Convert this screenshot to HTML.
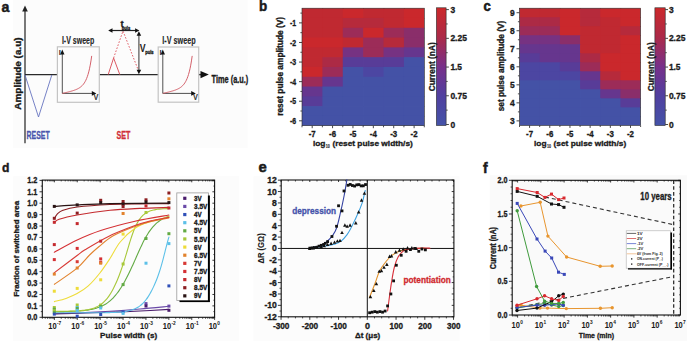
<!DOCTYPE html>
<html><head><meta charset="utf-8"><style>
html,body{margin:0;padding:0;background:#fff;}
svg{display:block;}
text{font-family:"Liberation Sans",sans-serif;}
</style></head><body>
<svg width="687" height="341" viewBox="0 0 687 341">
<rect width="687" height="341" fill="#fff"/>
<rect x="13.2" y="0" width="234.3" height="148" fill="#fcfcfc"/>
<rect x="13.2" y="176.1" width="226" height="164.9" fill="#fcfcfc"/>
<rect x="253.5" y="176.2" width="206" height="164.8" fill="#fcfcfc"/>
<rect x="489.8" y="175.3" width="197.2" height="165.7" fill="#fafafa"/>
<text x="1.50" y="11.50" font-size="14.5" fill="#1a1a1a" font-weight="bold" text-anchor="start" textLength="7.90" lengthAdjust="spacingAndGlyphs"  stroke="#1a1a1a" stroke-width="0.5">a</text>
<line x1="25.00" y1="10.50" x2="25.00" y2="143.30" stroke="#6a6a6a" stroke-width="1.8" />
<polygon points="22.20,11.50 27.80,11.50 25.00,5.50" fill="#222" stroke="none" stroke-width="1" />
<text transform="translate(21.20,109.70) rotate(-90)" x="0" y="0" font-size="8.4" fill="#1a1a1a" font-weight="bold" text-anchor="start" textLength="72.30" lengthAdjust="spacingAndGlyphs"  stroke="#1a1a1a" stroke-width="0.32">Amplitude (a.u)</text>
<line x1="25.00" y1="74.60" x2="57.50" y2="74.60" stroke="#2a2a2a" stroke-width="1.4" />
<line x1="99.30" y1="74.60" x2="158.20" y2="74.60" stroke="#2a2a2a" stroke-width="1.4" />
<line x1="198.70" y1="74.60" x2="203.00" y2="74.60" stroke="#2a2a2a" stroke-width="1.4" />
<polygon points="200.50,71.00 200.50,78.20 208.80,74.60" fill="#111" stroke="none" stroke-width="1" />
<text x="211.60" y="82.60" font-size="10.6" fill="#1a1a1a" font-weight="bold" text-anchor="start" textLength="36.70" lengthAdjust="spacingAndGlyphs"  stroke="#1a1a1a" stroke-width="0.32">Time (a.u.)</text>
<polyline points="25.00,75.00 38.50,117.00 51.80,75.00" fill="none" stroke="#6674c0" stroke-width="0.9" stroke-linejoin="round" />
<rect x="57.40" y="46.80" width="41.90" height="55.50" fill="none" stroke="#c4c4c4" stroke-width="1.2" />
<text x="61.90" y="43.90" font-size="10" fill="#262626" font-weight="bold" text-anchor="start" textLength="32.40" lengthAdjust="spacingAndGlyphs"  stroke="#262626" stroke-width="0.12">I-V sweep</text>
<line x1="62.30" y1="93.40" x2="62.30" y2="53.50" stroke="#505050" stroke-width="1" />
<polygon points="60.10,54.50 64.50,54.50 62.30,49.50" fill="#111" stroke="none" stroke-width="1" />
<line x1="62.30" y1="93.40" x2="92.40" y2="93.40" stroke="#505050" stroke-width="1" />
<polygon points="91.80,91.00 91.80,95.80 96.40,93.40" fill="#111" stroke="none" stroke-width="1" />
<text x="58.70" y="54.90" font-size="7.8" fill="#333" font-weight="bold" text-anchor="start" >I</text>
<text x="93.50" y="100.00" font-size="8.5" fill="#333" font-weight="bold" text-anchor="start" textLength="4.90" lengthAdjust="spacingAndGlyphs" >V</text>
<polyline points="62.30,93.40 63.03,93.23 63.77,93.06 64.50,92.89 65.24,92.72 65.97,92.54 66.71,92.36 67.44,92.18 68.18,92.00 68.91,91.81 69.65,91.62 70.38,91.42 71.12,91.22 71.85,91.01 72.59,90.79 73.32,90.55 74.06,90.31 74.79,90.05 75.53,89.77 76.26,89.47 77.00,89.15 77.73,88.79 78.47,88.40 79.20,87.97 79.94,87.49 80.67,86.95 81.41,86.34 82.14,85.64 82.88,84.85 83.61,83.94 84.35,82.89 85.08,81.68 85.82,80.27 86.55,78.63 87.29,76.72 88.02,74.48 88.76,71.86 89.49,68.79 90.23,65.17 90.96,60.91 91.70,55.90" fill="none" stroke="#d4606a" stroke-width="1" stroke-linejoin="round" />
<rect x="158.20" y="47.00" width="40.50" height="55.20" fill="none" stroke="#c4c4c4" stroke-width="1.2" />
<text x="162.20" y="43.90" font-size="10" fill="#262626" font-weight="bold" text-anchor="start" textLength="33.50" lengthAdjust="spacingAndGlyphs"  stroke="#262626" stroke-width="0.12">I-V sweep</text>
<line x1="162.80" y1="93.40" x2="162.80" y2="53.50" stroke="#505050" stroke-width="1" />
<polygon points="160.60,54.50 165.00,54.50 162.80,49.50" fill="#111" stroke="none" stroke-width="1" />
<line x1="162.80" y1="93.40" x2="191.80" y2="93.40" stroke="#505050" stroke-width="1" />
<polygon points="191.20,91.00 191.20,95.80 195.80,93.40" fill="#111" stroke="none" stroke-width="1" />
<text x="159.50" y="54.90" font-size="7.8" fill="#333" font-weight="bold" text-anchor="start" >I</text>
<text x="192.90" y="100.00" font-size="8.5" fill="#333" font-weight="bold" text-anchor="start" textLength="4.90" lengthAdjust="spacingAndGlyphs" >V</text>
<polyline points="162.80,93.40 163.53,93.23 164.27,93.06 165.00,92.89 165.74,92.72 166.47,92.54 167.21,92.36 167.94,92.18 168.68,92.00 169.41,91.81 170.15,91.62 170.88,91.42 171.62,91.22 172.35,91.01 173.09,90.79 173.82,90.55 174.56,90.31 175.29,90.05 176.03,89.77 176.76,89.47 177.50,89.15 178.23,88.79 178.97,88.40 179.70,87.97 180.44,87.49 181.17,86.95 181.91,86.34 182.64,85.64 183.38,84.85 184.11,83.94 184.85,82.89 185.58,81.68 186.32,80.27 187.05,78.63 187.79,76.72 188.52,74.48 189.26,71.86 190.00,68.79 190.73,65.17 191.46,60.91 192.20,55.90" fill="none" stroke="#d4606a" stroke-width="1" stroke-linejoin="round" />
<polyline points="108.20,74.60 113.60,58.00 119.80,74.60" fill="none" stroke="#dc5a64" stroke-width="1" stroke-linejoin="round" />
<polyline points="113.60,58.00 123.00,31.00 138.60,71.00" fill="none" stroke="#e06068" stroke-width="1" stroke-linejoin="round" stroke-dasharray="1.6,1.6"/>
<line x1="111.00" y1="30.50" x2="137.00" y2="30.50" stroke="#222" stroke-width="1.2" />
<polygon points="108.20,30.50 112.50,28.30 112.50,32.70" fill="#111" stroke="none" stroke-width="1" />
<polygon points="139.40,30.50 135.10,28.30 135.10,32.70" fill="#111" stroke="none" stroke-width="1" />
<text x="120.40" y="27.30" font-size="9.5" fill="#1a1a1a" font-weight="bold" text-anchor="start"  stroke="#1a1a1a" stroke-width="0.32">t</text>
<text x="121.80" y="29.60" font-size="4.6" fill="#1a1a1a" font-weight="bold" text-anchor="start" textLength="8.40" lengthAdjust="spacingAndGlyphs"  stroke="#1a1a1a" stroke-width="0.32">puls</text>
<line x1="138.90" y1="35.00" x2="138.90" y2="70.50" stroke="#444" stroke-width="1.1" />
<polygon points="138.90,31.30 136.60,35.80 141.20,35.80" fill="#111" stroke="none" stroke-width="1" />
<polygon points="138.90,74.20 136.60,69.70 141.20,69.70" fill="#111" stroke="none" stroke-width="1" />
<text x="139.80" y="52.20" font-size="10.8" fill="#1a1a1a" font-weight="bold" text-anchor="start" textLength="5.80" lengthAdjust="spacingAndGlyphs"  stroke="#1a1a1a" stroke-width="0.1">V</text>
<text x="145.20" y="54.30" font-size="4.8" fill="#1a1a1a" font-weight="bold" text-anchor="start" textLength="8.40" lengthAdjust="spacingAndGlyphs"  stroke="#1a1a1a" stroke-width="0.32">puls</text>
<text x="26.60" y="138.60" font-size="10.9" fill="#4a56ac" font-weight="bold" text-anchor="start" textLength="23.10" lengthAdjust="spacingAndGlyphs"  stroke="#4a56ac" stroke-width="0.32">RESET</text>
<text x="116.60" y="138.60" font-size="10.9" fill="#d0303a" font-weight="bold" text-anchor="start" textLength="13.80" lengthAdjust="spacingAndGlyphs"  stroke="#d0303a" stroke-width="0.32">SET</text>
<defs><linearGradient id="cbar" x1="0" y1="0" x2="0" y2="1"><stop offset="0" stop-color="#cc282a"/><stop offset="0.25" stop-color="#ac2a48"/><stop offset="0.5" stop-color="#78308a"/><stop offset="0.75" stop-color="#5040a0"/><stop offset="1" stop-color="#4453a8"/></linearGradient></defs>
<text x="259.10" y="11.45" font-size="13.8" fill="#1a1a1a" font-weight="bold" text-anchor="start" textLength="8.20" lengthAdjust="spacingAndGlyphs"  stroke="#1a1a1a" stroke-width="0.5">b</text>
<rect x="302.00" y="8.20" width="21.18" height="10.59" fill="#c02931"/>
<rect x="322.38" y="8.20" width="21.18" height="10.59" fill="#c02931"/>
<rect x="342.77" y="8.20" width="21.18" height="10.59" fill="#ca282c"/>
<rect x="363.15" y="8.20" width="21.18" height="10.59" fill="#c02931"/>
<rect x="383.53" y="8.20" width="21.18" height="10.59" fill="#c02931"/>
<rect x="403.92" y="8.20" width="20.38" height="10.59" fill="#ca282c"/>
<rect x="302.00" y="17.99" width="21.18" height="10.59" fill="#c02931"/>
<rect x="322.38" y="17.99" width="21.18" height="10.59" fill="#c02931"/>
<rect x="342.77" y="17.99" width="21.18" height="10.59" fill="#b62a3b"/>
<rect x="363.15" y="17.99" width="21.18" height="10.59" fill="#b62a3b"/>
<rect x="383.53" y="17.99" width="21.18" height="10.59" fill="#c02931"/>
<rect x="403.92" y="17.99" width="20.38" height="10.59" fill="#ca282c"/>
<rect x="302.00" y="27.78" width="21.18" height="10.59" fill="#c02931"/>
<rect x="322.38" y="27.78" width="21.18" height="10.59" fill="#c02931"/>
<rect x="342.77" y="27.78" width="21.18" height="10.59" fill="#9c2c58"/>
<rect x="363.15" y="27.78" width="21.18" height="10.59" fill="#ca282c"/>
<rect x="383.53" y="27.78" width="21.18" height="10.59" fill="#9c2c58"/>
<rect x="403.92" y="27.78" width="20.38" height="10.59" fill="#8a2e6a"/>
<rect x="302.00" y="37.58" width="21.18" height="10.59" fill="#ca282c"/>
<rect x="322.38" y="37.58" width="21.18" height="10.59" fill="#ca282c"/>
<rect x="342.77" y="37.58" width="21.18" height="10.59" fill="#c02931"/>
<rect x="363.15" y="37.58" width="21.18" height="10.59" fill="#9c2c58"/>
<rect x="383.53" y="37.58" width="21.18" height="10.59" fill="#b62a3b"/>
<rect x="403.92" y="37.58" width="20.38" height="10.59" fill="#8a2e6a"/>
<rect x="302.00" y="47.37" width="21.18" height="10.59" fill="#c02931"/>
<rect x="322.38" y="47.37" width="21.18" height="10.59" fill="#c02931"/>
<rect x="342.77" y="47.37" width="21.18" height="10.59" fill="#763282"/>
<rect x="363.15" y="47.37" width="21.18" height="10.59" fill="#9c2c58"/>
<rect x="383.53" y="47.37" width="21.18" height="10.59" fill="#763282"/>
<rect x="403.92" y="47.37" width="20.38" height="10.59" fill="#66368e"/>
<rect x="302.00" y="57.16" width="21.18" height="10.59" fill="#c02931"/>
<rect x="322.38" y="57.16" width="21.18" height="10.59" fill="#ac2a45"/>
<rect x="342.77" y="57.16" width="21.18" height="10.59" fill="#583c98"/>
<rect x="363.15" y="57.16" width="21.18" height="10.59" fill="#583c98"/>
<rect x="383.53" y="57.16" width="21.18" height="10.59" fill="#583c98"/>
<rect x="403.92" y="57.16" width="20.38" height="10.59" fill="#4452a6"/>
<rect x="302.00" y="66.95" width="21.18" height="10.59" fill="#ca282c"/>
<rect x="322.38" y="66.95" width="21.18" height="10.59" fill="#9c2c58"/>
<rect x="342.77" y="66.95" width="21.18" height="10.59" fill="#4452a6"/>
<rect x="363.15" y="66.95" width="21.18" height="10.59" fill="#4c46a2"/>
<rect x="383.53" y="66.95" width="21.18" height="10.59" fill="#4452a6"/>
<rect x="403.92" y="66.95" width="20.38" height="10.59" fill="#4452a6"/>
<rect x="302.00" y="76.74" width="21.18" height="10.59" fill="#9c2c58"/>
<rect x="322.38" y="76.74" width="21.18" height="10.59" fill="#66368e"/>
<rect x="342.77" y="76.74" width="21.18" height="10.59" fill="#4452a6"/>
<rect x="363.15" y="76.74" width="21.18" height="10.59" fill="#4452a6"/>
<rect x="383.53" y="76.74" width="21.18" height="10.59" fill="#4452a6"/>
<rect x="403.92" y="76.74" width="20.38" height="10.59" fill="#4452a6"/>
<rect x="302.00" y="86.53" width="21.18" height="10.59" fill="#66368e"/>
<rect x="322.38" y="86.53" width="21.18" height="10.59" fill="#4452a6"/>
<rect x="342.77" y="86.53" width="21.18" height="10.59" fill="#4452a6"/>
<rect x="363.15" y="86.53" width="21.18" height="10.59" fill="#4452a6"/>
<rect x="383.53" y="86.53" width="21.18" height="10.59" fill="#4452a6"/>
<rect x="403.92" y="86.53" width="20.38" height="10.59" fill="#4452a6"/>
<rect x="302.00" y="96.33" width="21.18" height="10.59" fill="#583c98"/>
<rect x="322.38" y="96.33" width="21.18" height="10.59" fill="#4452a6"/>
<rect x="342.77" y="96.33" width="21.18" height="10.59" fill="#4452a6"/>
<rect x="363.15" y="96.33" width="21.18" height="10.59" fill="#4452a6"/>
<rect x="383.53" y="96.33" width="21.18" height="10.59" fill="#4452a6"/>
<rect x="403.92" y="96.33" width="20.38" height="10.59" fill="#4452a6"/>
<rect x="302.00" y="106.12" width="21.18" height="10.59" fill="#4452a6"/>
<rect x="322.38" y="106.12" width="21.18" height="10.59" fill="#4452a6"/>
<rect x="342.77" y="106.12" width="21.18" height="10.59" fill="#4452a6"/>
<rect x="363.15" y="106.12" width="21.18" height="10.59" fill="#4452a6"/>
<rect x="383.53" y="106.12" width="21.18" height="10.59" fill="#4452a6"/>
<rect x="403.92" y="106.12" width="20.38" height="10.59" fill="#4452a6"/>
<rect x="302.00" y="115.91" width="21.18" height="9.79" fill="#4452a6"/>
<rect x="322.38" y="115.91" width="21.18" height="9.79" fill="#4452a6"/>
<rect x="342.77" y="115.91" width="21.18" height="9.79" fill="#4452a6"/>
<rect x="363.15" y="115.91" width="21.18" height="9.79" fill="#4452a6"/>
<rect x="383.53" y="115.91" width="21.18" height="9.79" fill="#4452a6"/>
<rect x="403.92" y="115.91" width="20.38" height="9.79" fill="#4452a6"/>
<rect x="302.00" y="8.20" width="122.30" height="117.50" fill="none" stroke="#2a2a2a" stroke-width="0.6" />
<line x1="300.40" y1="13.10" x2="302.00" y2="13.10" stroke="#333" stroke-width="0.85" />
<line x1="299.00" y1="22.89" x2="302.00" y2="22.89" stroke="#333" stroke-width="0.9" />
<text x="296.20" y="26.04" font-size="9.0" fill="#1a1a1a" font-weight="bold" text-anchor="end" textLength="6.20" lengthAdjust="spacingAndGlyphs"  stroke="#1a1a1a" stroke-width="0.32">-1</text>
<line x1="300.40" y1="32.68" x2="302.00" y2="32.68" stroke="#333" stroke-width="0.85" />
<line x1="299.00" y1="42.47" x2="302.00" y2="42.47" stroke="#333" stroke-width="0.9" />
<text x="296.20" y="45.62" font-size="9.0" fill="#1a1a1a" font-weight="bold" text-anchor="end" textLength="6.20" lengthAdjust="spacingAndGlyphs"  stroke="#1a1a1a" stroke-width="0.32">-2</text>
<line x1="300.40" y1="52.26" x2="302.00" y2="52.26" stroke="#333" stroke-width="0.85" />
<line x1="299.00" y1="62.05" x2="302.00" y2="62.05" stroke="#333" stroke-width="0.9" />
<text x="296.20" y="65.20" font-size="9.0" fill="#1a1a1a" font-weight="bold" text-anchor="end" textLength="6.20" lengthAdjust="spacingAndGlyphs"  stroke="#1a1a1a" stroke-width="0.32">-3</text>
<line x1="300.40" y1="71.85" x2="302.00" y2="71.85" stroke="#333" stroke-width="0.85" />
<line x1="299.00" y1="81.64" x2="302.00" y2="81.64" stroke="#333" stroke-width="0.9" />
<text x="296.20" y="84.79" font-size="9.0" fill="#1a1a1a" font-weight="bold" text-anchor="end" textLength="6.20" lengthAdjust="spacingAndGlyphs"  stroke="#1a1a1a" stroke-width="0.32">-4</text>
<line x1="300.40" y1="91.43" x2="302.00" y2="91.43" stroke="#333" stroke-width="0.85" />
<line x1="299.00" y1="101.22" x2="302.00" y2="101.22" stroke="#333" stroke-width="0.9" />
<text x="296.20" y="104.37" font-size="9.0" fill="#1a1a1a" font-weight="bold" text-anchor="end" textLength="6.20" lengthAdjust="spacingAndGlyphs"  stroke="#1a1a1a" stroke-width="0.32">-5</text>
<line x1="300.40" y1="111.01" x2="302.00" y2="111.01" stroke="#333" stroke-width="0.85" />
<line x1="299.00" y1="120.80" x2="302.00" y2="120.80" stroke="#333" stroke-width="0.9" />
<text x="296.20" y="123.95" font-size="9.0" fill="#1a1a1a" font-weight="bold" text-anchor="end" textLength="6.20" lengthAdjust="spacingAndGlyphs"  stroke="#1a1a1a" stroke-width="0.32">-6</text>
<line x1="312.19" y1="125.70" x2="312.19" y2="128.20" stroke="#333" stroke-width="0.9" />
<line x1="302.00" y1="125.70" x2="302.00" y2="127.30" stroke="#333" stroke-width="0.85" />
<text x="312.19" y="136.70" font-size="9.0" fill="#1a1a1a" font-weight="bold" text-anchor="middle" textLength="7.00" lengthAdjust="spacingAndGlyphs"  stroke="#1a1a1a" stroke-width="0.32">-7</text>
<line x1="332.57" y1="125.70" x2="332.57" y2="128.20" stroke="#333" stroke-width="0.9" />
<line x1="322.38" y1="125.70" x2="322.38" y2="127.30" stroke="#333" stroke-width="0.85" />
<text x="332.57" y="136.70" font-size="9.0" fill="#1a1a1a" font-weight="bold" text-anchor="middle" textLength="7.00" lengthAdjust="spacingAndGlyphs"  stroke="#1a1a1a" stroke-width="0.32">-6</text>
<line x1="352.96" y1="125.70" x2="352.96" y2="128.20" stroke="#333" stroke-width="0.9" />
<line x1="342.77" y1="125.70" x2="342.77" y2="127.30" stroke="#333" stroke-width="0.85" />
<text x="352.96" y="136.70" font-size="9.0" fill="#1a1a1a" font-weight="bold" text-anchor="middle" textLength="7.00" lengthAdjust="spacingAndGlyphs"  stroke="#1a1a1a" stroke-width="0.32">-5</text>
<line x1="373.34" y1="125.70" x2="373.34" y2="128.20" stroke="#333" stroke-width="0.9" />
<line x1="363.15" y1="125.70" x2="363.15" y2="127.30" stroke="#333" stroke-width="0.85" />
<text x="373.34" y="136.70" font-size="9.0" fill="#1a1a1a" font-weight="bold" text-anchor="middle" textLength="7.00" lengthAdjust="spacingAndGlyphs"  stroke="#1a1a1a" stroke-width="0.32">-4</text>
<line x1="393.73" y1="125.70" x2="393.73" y2="128.20" stroke="#333" stroke-width="0.9" />
<line x1="383.53" y1="125.70" x2="383.53" y2="127.30" stroke="#333" stroke-width="0.85" />
<text x="393.73" y="136.70" font-size="9.0" fill="#1a1a1a" font-weight="bold" text-anchor="middle" textLength="7.00" lengthAdjust="spacingAndGlyphs"  stroke="#1a1a1a" stroke-width="0.32">-3</text>
<line x1="414.11" y1="125.70" x2="414.11" y2="128.20" stroke="#333" stroke-width="0.9" />
<line x1="403.92" y1="125.70" x2="403.92" y2="127.30" stroke="#333" stroke-width="0.85" />
<text x="414.11" y="136.70" font-size="9.0" fill="#1a1a1a" font-weight="bold" text-anchor="middle" textLength="7.00" lengthAdjust="spacingAndGlyphs"  stroke="#1a1a1a" stroke-width="0.32">-2</text>
<line x1="424.30" y1="125.70" x2="424.30" y2="127.30" stroke="#333" stroke-width="0.85" />
<text transform="translate(283.20,115.80) rotate(-90)" x="0" y="0" font-size="8.3" fill="#1a1a1a" font-weight="bold" text-anchor="start" textLength="98.80" lengthAdjust="spacingAndGlyphs"  stroke="#1a1a1a" stroke-width="0.32">reset pulse amplitude (V)</text>
<text x="312.90" y="146.30" font-size="8.0" fill="#1a1a1a" font-weight="bold" text-anchor="start" textLength="12.50" lengthAdjust="spacingAndGlyphs"  stroke="#1a1a1a" stroke-width="0.32">log</text>
<text x="325.80" y="148.10" font-size="4.6" fill="#1a1a1a" font-weight="bold" text-anchor="start" textLength="4.10" lengthAdjust="spacingAndGlyphs"  stroke="#1a1a1a" stroke-width="0.1">10</text>
<text x="332.40" y="146.30" font-size="8.0" fill="#1a1a1a" font-weight="bold" text-anchor="start" textLength="80.40" lengthAdjust="spacingAndGlyphs"  stroke="#1a1a1a" stroke-width="0.32">(reset pulse width/s)</text>
<rect x="436.40" y="7.8" width="9.70" height="117.7" fill="url(#cbar)" stroke="#2a2a2a" stroke-width="0.6"/>
<line x1="446.10" y1="9.60" x2="448.90" y2="9.60" stroke="#333" stroke-width="0.9" />
<text x="450.40" y="12.70" font-size="8.9" fill="#1a1a1a" font-weight="bold" text-anchor="start" textLength="4.70" lengthAdjust="spacingAndGlyphs"  stroke="#1a1a1a" stroke-width="0.32">3</text>
<line x1="446.10" y1="23.96" x2="447.70" y2="23.96" stroke="#333" stroke-width="0.85" />
<line x1="446.10" y1="38.33" x2="448.90" y2="38.33" stroke="#333" stroke-width="0.9" />
<text x="450.40" y="41.43" font-size="8.9" fill="#1a1a1a" font-weight="bold" text-anchor="start" textLength="16.50" lengthAdjust="spacingAndGlyphs"  stroke="#1a1a1a" stroke-width="0.32">2.25</text>
<line x1="446.10" y1="52.69" x2="447.70" y2="52.69" stroke="#333" stroke-width="0.85" />
<line x1="446.10" y1="67.05" x2="448.90" y2="67.05" stroke="#333" stroke-width="0.9" />
<text x="450.40" y="70.15" font-size="8.9" fill="#1a1a1a" font-weight="bold" text-anchor="start" textLength="11.60" lengthAdjust="spacingAndGlyphs"  stroke="#1a1a1a" stroke-width="0.32">1.5</text>
<line x1="446.10" y1="81.41" x2="447.70" y2="81.41" stroke="#333" stroke-width="0.85" />
<line x1="446.10" y1="95.78" x2="448.90" y2="95.78" stroke="#333" stroke-width="0.9" />
<text x="450.40" y="98.88" font-size="8.9" fill="#1a1a1a" font-weight="bold" text-anchor="start" textLength="16.50" lengthAdjust="spacingAndGlyphs"  stroke="#1a1a1a" stroke-width="0.32">0.75</text>
<line x1="446.10" y1="110.14" x2="447.70" y2="110.14" stroke="#333" stroke-width="0.85" />
<line x1="446.10" y1="124.50" x2="448.90" y2="124.50" stroke="#333" stroke-width="0.9" />
<text x="450.40" y="127.60" font-size="8.9" fill="#1a1a1a" font-weight="bold" text-anchor="start" textLength="4.70" lengthAdjust="spacingAndGlyphs"  stroke="#1a1a1a" stroke-width="0.32">0</text>
<text transform="translate(435.00,91.30) rotate(-90)" x="0" y="0" font-size="8.3" fill="#1a1a1a" font-weight="bold" text-anchor="start" textLength="49.00" lengthAdjust="spacingAndGlyphs"  stroke="#1a1a1a" stroke-width="0.32">Current (nA)</text>
<text x="483.50" y="11.45" font-size="13.8" fill="#1a1a1a" font-weight="bold" text-anchor="start" textLength="7.30" lengthAdjust="spacingAndGlyphs"  stroke="#1a1a1a" stroke-width="0.5">c</text>
<rect x="519.50" y="8.20" width="20.98" height="9.82" fill="#c02931"/>
<rect x="539.68" y="8.20" width="20.98" height="9.82" fill="#c02931"/>
<rect x="559.87" y="8.20" width="20.98" height="9.82" fill="#ca282c"/>
<rect x="580.05" y="8.20" width="20.98" height="9.82" fill="#b62a3b"/>
<rect x="600.23" y="8.20" width="20.98" height="9.82" fill="#ca282c"/>
<rect x="620.42" y="8.20" width="20.18" height="9.82" fill="#ca282c"/>
<rect x="519.50" y="17.22" width="20.98" height="9.82" fill="#ac2a45"/>
<rect x="539.68" y="17.22" width="20.98" height="9.82" fill="#ac2a45"/>
<rect x="559.87" y="17.22" width="20.98" height="9.82" fill="#ca282c"/>
<rect x="580.05" y="17.22" width="20.98" height="9.82" fill="#b62a3b"/>
<rect x="600.23" y="17.22" width="20.98" height="9.82" fill="#c02931"/>
<rect x="620.42" y="17.22" width="20.18" height="9.82" fill="#ca282c"/>
<rect x="519.50" y="26.23" width="20.98" height="9.82" fill="#9c2c58"/>
<rect x="539.68" y="26.23" width="20.98" height="9.82" fill="#9c2c58"/>
<rect x="559.87" y="26.23" width="20.98" height="9.82" fill="#ca282c"/>
<rect x="580.05" y="26.23" width="20.98" height="9.82" fill="#c02931"/>
<rect x="600.23" y="26.23" width="20.98" height="9.82" fill="#c02931"/>
<rect x="620.42" y="26.23" width="20.18" height="9.82" fill="#b62a3b"/>
<rect x="519.50" y="35.25" width="20.98" height="9.82" fill="#763282"/>
<rect x="539.68" y="35.25" width="20.98" height="9.82" fill="#763282"/>
<rect x="559.87" y="35.25" width="20.98" height="9.82" fill="#8a2e6a"/>
<rect x="580.05" y="35.25" width="20.98" height="9.82" fill="#c02931"/>
<rect x="600.23" y="35.25" width="20.98" height="9.82" fill="#c02931"/>
<rect x="620.42" y="35.25" width="20.18" height="9.82" fill="#ca282c"/>
<rect x="519.50" y="44.26" width="20.98" height="9.82" fill="#66368e"/>
<rect x="539.68" y="44.26" width="20.98" height="9.82" fill="#66368e"/>
<rect x="559.87" y="44.26" width="20.98" height="9.82" fill="#66368e"/>
<rect x="580.05" y="44.26" width="20.98" height="9.82" fill="#c02931"/>
<rect x="600.23" y="44.26" width="20.98" height="9.82" fill="#c02931"/>
<rect x="620.42" y="44.26" width="20.18" height="9.82" fill="#ca282c"/>
<rect x="519.50" y="53.28" width="20.98" height="9.82" fill="#583c98"/>
<rect x="539.68" y="53.28" width="20.98" height="9.82" fill="#66368e"/>
<rect x="559.87" y="53.28" width="20.98" height="9.82" fill="#66368e"/>
<rect x="580.05" y="53.28" width="20.98" height="9.82" fill="#ac2a45"/>
<rect x="600.23" y="53.28" width="20.98" height="9.82" fill="#ca282c"/>
<rect x="620.42" y="53.28" width="20.18" height="9.82" fill="#ca282c"/>
<rect x="519.50" y="62.29" width="20.98" height="9.82" fill="#4c46a2"/>
<rect x="539.68" y="62.29" width="20.98" height="9.82" fill="#4c46a2"/>
<rect x="559.87" y="62.29" width="20.98" height="9.82" fill="#583c98"/>
<rect x="580.05" y="62.29" width="20.98" height="9.82" fill="#9c2c58"/>
<rect x="600.23" y="62.29" width="20.98" height="9.82" fill="#ca282c"/>
<rect x="620.42" y="62.29" width="20.18" height="9.82" fill="#ca282c"/>
<rect x="519.50" y="71.31" width="20.98" height="9.82" fill="#4c46a2"/>
<rect x="539.68" y="71.31" width="20.98" height="9.82" fill="#4c46a2"/>
<rect x="559.87" y="71.31" width="20.98" height="9.82" fill="#4c46a2"/>
<rect x="580.05" y="71.31" width="20.98" height="9.82" fill="#66368e"/>
<rect x="600.23" y="71.31" width="20.98" height="9.82" fill="#b62a3b"/>
<rect x="620.42" y="71.31" width="20.18" height="9.82" fill="#ca282c"/>
<rect x="519.50" y="80.32" width="20.98" height="9.82" fill="#4452a6"/>
<rect x="539.68" y="80.32" width="20.98" height="9.82" fill="#4452a6"/>
<rect x="559.87" y="80.32" width="20.98" height="9.82" fill="#4452a6"/>
<rect x="580.05" y="80.32" width="20.98" height="9.82" fill="#583c98"/>
<rect x="600.23" y="80.32" width="20.98" height="9.82" fill="#9c2c58"/>
<rect x="620.42" y="80.32" width="20.18" height="9.82" fill="#9c2c58"/>
<rect x="519.50" y="89.34" width="20.98" height="9.82" fill="#4452a6"/>
<rect x="539.68" y="89.34" width="20.98" height="9.82" fill="#4452a6"/>
<rect x="559.87" y="89.34" width="20.98" height="9.82" fill="#4452a6"/>
<rect x="580.05" y="89.34" width="20.98" height="9.82" fill="#4452a6"/>
<rect x="600.23" y="89.34" width="20.98" height="9.82" fill="#66368e"/>
<rect x="620.42" y="89.34" width="20.18" height="9.82" fill="#8a2e6a"/>
<rect x="519.50" y="98.35" width="20.98" height="9.82" fill="#4452a6"/>
<rect x="539.68" y="98.35" width="20.98" height="9.82" fill="#4452a6"/>
<rect x="559.87" y="98.35" width="20.98" height="9.82" fill="#4452a6"/>
<rect x="580.05" y="98.35" width="20.98" height="9.82" fill="#4452a6"/>
<rect x="600.23" y="98.35" width="20.98" height="9.82" fill="#4452a6"/>
<rect x="620.42" y="98.35" width="20.18" height="9.82" fill="#583c98"/>
<rect x="519.50" y="107.37" width="20.98" height="9.82" fill="#4452a6"/>
<rect x="539.68" y="107.37" width="20.98" height="9.82" fill="#4452a6"/>
<rect x="559.87" y="107.37" width="20.98" height="9.82" fill="#4452a6"/>
<rect x="580.05" y="107.37" width="20.98" height="9.82" fill="#4452a6"/>
<rect x="600.23" y="107.37" width="20.98" height="9.82" fill="#4452a6"/>
<rect x="620.42" y="107.37" width="20.18" height="9.82" fill="#4452a6"/>
<rect x="519.50" y="116.38" width="20.98" height="9.02" fill="#4452a6"/>
<rect x="539.68" y="116.38" width="20.98" height="9.02" fill="#4452a6"/>
<rect x="559.87" y="116.38" width="20.98" height="9.02" fill="#4452a6"/>
<rect x="580.05" y="116.38" width="20.98" height="9.02" fill="#4452a6"/>
<rect x="600.23" y="116.38" width="20.98" height="9.02" fill="#4452a6"/>
<rect x="620.42" y="116.38" width="20.18" height="9.02" fill="#4452a6"/>
<rect x="519.50" y="8.20" width="121.10" height="117.20" fill="none" stroke="#2a2a2a" stroke-width="0.6" />
<line x1="516.50" y1="12.71" x2="519.50" y2="12.71" stroke="#333" stroke-width="0.9" />
<text x="514.60" y="15.86" font-size="9.0" fill="#1a1a1a" font-weight="bold" text-anchor="end" textLength="4.70" lengthAdjust="spacingAndGlyphs"  stroke="#1a1a1a" stroke-width="0.32">9</text>
<line x1="517.90" y1="21.72" x2="519.50" y2="21.72" stroke="#333" stroke-width="0.85" />
<line x1="516.50" y1="30.74" x2="519.50" y2="30.74" stroke="#333" stroke-width="0.9" />
<text x="514.60" y="33.89" font-size="9.0" fill="#1a1a1a" font-weight="bold" text-anchor="end" textLength="4.70" lengthAdjust="spacingAndGlyphs"  stroke="#1a1a1a" stroke-width="0.32">8</text>
<line x1="517.90" y1="39.75" x2="519.50" y2="39.75" stroke="#333" stroke-width="0.85" />
<line x1="516.50" y1="48.77" x2="519.50" y2="48.77" stroke="#333" stroke-width="0.9" />
<text x="514.60" y="51.92" font-size="9.0" fill="#1a1a1a" font-weight="bold" text-anchor="end" textLength="4.70" lengthAdjust="spacingAndGlyphs"  stroke="#1a1a1a" stroke-width="0.32">7</text>
<line x1="517.90" y1="57.78" x2="519.50" y2="57.78" stroke="#333" stroke-width="0.85" />
<line x1="516.50" y1="66.80" x2="519.50" y2="66.80" stroke="#333" stroke-width="0.9" />
<text x="514.60" y="69.95" font-size="9.0" fill="#1a1a1a" font-weight="bold" text-anchor="end" textLength="4.70" lengthAdjust="spacingAndGlyphs"  stroke="#1a1a1a" stroke-width="0.32">6</text>
<line x1="517.90" y1="75.82" x2="519.50" y2="75.82" stroke="#333" stroke-width="0.85" />
<line x1="516.50" y1="84.83" x2="519.50" y2="84.83" stroke="#333" stroke-width="0.9" />
<text x="514.60" y="87.98" font-size="9.0" fill="#1a1a1a" font-weight="bold" text-anchor="end" textLength="4.70" lengthAdjust="spacingAndGlyphs"  stroke="#1a1a1a" stroke-width="0.32">5</text>
<line x1="517.90" y1="93.85" x2="519.50" y2="93.85" stroke="#333" stroke-width="0.85" />
<line x1="516.50" y1="102.86" x2="519.50" y2="102.86" stroke="#333" stroke-width="0.9" />
<text x="514.60" y="106.01" font-size="9.0" fill="#1a1a1a" font-weight="bold" text-anchor="end" textLength="4.70" lengthAdjust="spacingAndGlyphs"  stroke="#1a1a1a" stroke-width="0.32">4</text>
<line x1="517.90" y1="111.88" x2="519.50" y2="111.88" stroke="#333" stroke-width="0.85" />
<line x1="516.50" y1="120.89" x2="519.50" y2="120.89" stroke="#333" stroke-width="0.9" />
<text x="514.60" y="124.04" font-size="9.0" fill="#1a1a1a" font-weight="bold" text-anchor="end" textLength="4.70" lengthAdjust="spacingAndGlyphs"  stroke="#1a1a1a" stroke-width="0.32">3</text>
<line x1="529.59" y1="125.40" x2="529.59" y2="127.90" stroke="#333" stroke-width="0.9" />
<line x1="519.50" y1="125.40" x2="519.50" y2="127.00" stroke="#333" stroke-width="0.85" />
<text x="529.59" y="136.70" font-size="9.0" fill="#1a1a1a" font-weight="bold" text-anchor="middle" textLength="7.00" lengthAdjust="spacingAndGlyphs"  stroke="#1a1a1a" stroke-width="0.32">-7</text>
<line x1="549.77" y1="125.40" x2="549.77" y2="127.90" stroke="#333" stroke-width="0.9" />
<line x1="539.68" y1="125.40" x2="539.68" y2="127.00" stroke="#333" stroke-width="0.85" />
<text x="549.77" y="136.70" font-size="9.0" fill="#1a1a1a" font-weight="bold" text-anchor="middle" textLength="7.00" lengthAdjust="spacingAndGlyphs"  stroke="#1a1a1a" stroke-width="0.32">-6</text>
<line x1="569.96" y1="125.40" x2="569.96" y2="127.90" stroke="#333" stroke-width="0.9" />
<line x1="559.87" y1="125.40" x2="559.87" y2="127.00" stroke="#333" stroke-width="0.85" />
<text x="569.96" y="136.70" font-size="9.0" fill="#1a1a1a" font-weight="bold" text-anchor="middle" textLength="7.00" lengthAdjust="spacingAndGlyphs"  stroke="#1a1a1a" stroke-width="0.32">-5</text>
<line x1="590.14" y1="125.40" x2="590.14" y2="127.90" stroke="#333" stroke-width="0.9" />
<line x1="580.05" y1="125.40" x2="580.05" y2="127.00" stroke="#333" stroke-width="0.85" />
<text x="590.14" y="136.70" font-size="9.0" fill="#1a1a1a" font-weight="bold" text-anchor="middle" textLength="7.00" lengthAdjust="spacingAndGlyphs"  stroke="#1a1a1a" stroke-width="0.32">-4</text>
<line x1="610.33" y1="125.40" x2="610.33" y2="127.90" stroke="#333" stroke-width="0.9" />
<line x1="600.23" y1="125.40" x2="600.23" y2="127.00" stroke="#333" stroke-width="0.85" />
<text x="610.33" y="136.70" font-size="9.0" fill="#1a1a1a" font-weight="bold" text-anchor="middle" textLength="7.00" lengthAdjust="spacingAndGlyphs"  stroke="#1a1a1a" stroke-width="0.32">-3</text>
<line x1="630.51" y1="125.40" x2="630.51" y2="127.90" stroke="#333" stroke-width="0.9" />
<line x1="620.42" y1="125.40" x2="620.42" y2="127.00" stroke="#333" stroke-width="0.85" />
<text x="630.51" y="136.70" font-size="9.0" fill="#1a1a1a" font-weight="bold" text-anchor="middle" textLength="7.00" lengthAdjust="spacingAndGlyphs"  stroke="#1a1a1a" stroke-width="0.32">-2</text>
<line x1="640.60" y1="125.40" x2="640.60" y2="127.00" stroke="#333" stroke-width="0.85" />
<text transform="translate(504.00,111.30) rotate(-90)" x="0" y="0" font-size="8.3" fill="#1a1a1a" font-weight="bold" text-anchor="start" textLength="90.60" lengthAdjust="spacingAndGlyphs"  stroke="#1a1a1a" stroke-width="0.32">set pulse amplitude (V)</text>
<text x="534.00" y="146.30" font-size="8.0" fill="#1a1a1a" font-weight="bold" text-anchor="start" textLength="12.50" lengthAdjust="spacingAndGlyphs"  stroke="#1a1a1a" stroke-width="0.32">log</text>
<text x="546.90" y="148.10" font-size="4.6" fill="#1a1a1a" font-weight="bold" text-anchor="start" textLength="4.10" lengthAdjust="spacingAndGlyphs"  stroke="#1a1a1a" stroke-width="0.1">10</text>
<text x="553.50" y="146.30" font-size="8.0" fill="#1a1a1a" font-weight="bold" text-anchor="start" textLength="72.70" lengthAdjust="spacingAndGlyphs"  stroke="#1a1a1a" stroke-width="0.32">(set pulse width/s)</text>
<rect x="654.90" y="7.8" width="10.30" height="117.7" fill="url(#cbar)" stroke="#2a2a2a" stroke-width="0.6"/>
<line x1="665.20" y1="9.60" x2="668.00" y2="9.60" stroke="#333" stroke-width="0.9" />
<text x="668.90" y="12.70" font-size="8.9" fill="#1a1a1a" font-weight="bold" text-anchor="start" textLength="4.70" lengthAdjust="spacingAndGlyphs"  stroke="#1a1a1a" stroke-width="0.32">3</text>
<line x1="665.20" y1="23.96" x2="666.80" y2="23.96" stroke="#333" stroke-width="0.85" />
<line x1="665.20" y1="38.33" x2="668.00" y2="38.33" stroke="#333" stroke-width="0.9" />
<text x="668.90" y="41.43" font-size="8.9" fill="#1a1a1a" font-weight="bold" text-anchor="start" textLength="16.50" lengthAdjust="spacingAndGlyphs"  stroke="#1a1a1a" stroke-width="0.32">2.25</text>
<line x1="665.20" y1="52.69" x2="666.80" y2="52.69" stroke="#333" stroke-width="0.85" />
<line x1="665.20" y1="67.05" x2="668.00" y2="67.05" stroke="#333" stroke-width="0.9" />
<text x="668.90" y="70.15" font-size="8.9" fill="#1a1a1a" font-weight="bold" text-anchor="start" textLength="11.60" lengthAdjust="spacingAndGlyphs"  stroke="#1a1a1a" stroke-width="0.32">1.5</text>
<line x1="665.20" y1="81.41" x2="666.80" y2="81.41" stroke="#333" stroke-width="0.85" />
<line x1="665.20" y1="95.78" x2="668.00" y2="95.78" stroke="#333" stroke-width="0.9" />
<text x="668.90" y="98.88" font-size="8.9" fill="#1a1a1a" font-weight="bold" text-anchor="start" textLength="16.50" lengthAdjust="spacingAndGlyphs"  stroke="#1a1a1a" stroke-width="0.32">0.75</text>
<line x1="665.20" y1="110.14" x2="666.80" y2="110.14" stroke="#333" stroke-width="0.85" />
<line x1="665.20" y1="124.50" x2="668.00" y2="124.50" stroke="#333" stroke-width="0.9" />
<text x="668.90" y="127.60" font-size="8.9" fill="#1a1a1a" font-weight="bold" text-anchor="start" textLength="4.70" lengthAdjust="spacingAndGlyphs"  stroke="#1a1a1a" stroke-width="0.32">0</text>
<text transform="translate(653.60,91.30) rotate(-90)" x="0" y="0" font-size="8.3" fill="#1a1a1a" font-weight="bold" text-anchor="start" textLength="49.00" lengthAdjust="spacingAndGlyphs"  stroke="#1a1a1a" stroke-width="0.32">Current (nA)</text>
<text x="1.90" y="172.20" font-size="13.6" fill="#1a1a1a" font-weight="bold" text-anchor="start" textLength="7.40" lengthAdjust="spacingAndGlyphs"  stroke="#1a1a1a" stroke-width="0.45">d</text>
<line x1="39.50" y1="317.30" x2="42.30" y2="317.30" stroke="#222" stroke-width="0.9" />
<line x1="214.60" y1="317.30" x2="212.40" y2="317.30" stroke="#222" stroke-width="0.9" />
<text x="37.40" y="320.25" font-size="8.5" fill="#1a1a1a" font-weight="bold" text-anchor="end" textLength="10.20" lengthAdjust="spacingAndGlyphs"  stroke="#1a1a1a" stroke-width="0.32">0.0</text>
<line x1="40.80" y1="311.60" x2="42.30" y2="311.60" stroke="#333" stroke-width="0.85" />
<line x1="214.60" y1="311.60" x2="213.40" y2="311.60" stroke="#333" stroke-width="0.85" />
<line x1="39.50" y1="305.89" x2="42.30" y2="305.89" stroke="#222" stroke-width="0.9" />
<line x1="214.60" y1="305.89" x2="212.40" y2="305.89" stroke="#222" stroke-width="0.9" />
<text x="37.40" y="308.84" font-size="8.5" fill="#1a1a1a" font-weight="bold" text-anchor="end" textLength="10.20" lengthAdjust="spacingAndGlyphs"  stroke="#1a1a1a" stroke-width="0.32">0.1</text>
<line x1="40.80" y1="300.19" x2="42.30" y2="300.19" stroke="#333" stroke-width="0.85" />
<line x1="214.60" y1="300.19" x2="213.40" y2="300.19" stroke="#333" stroke-width="0.85" />
<line x1="39.50" y1="294.48" x2="42.30" y2="294.48" stroke="#222" stroke-width="0.9" />
<line x1="214.60" y1="294.48" x2="212.40" y2="294.48" stroke="#222" stroke-width="0.9" />
<text x="37.40" y="297.43" font-size="8.5" fill="#1a1a1a" font-weight="bold" text-anchor="end" textLength="10.20" lengthAdjust="spacingAndGlyphs"  stroke="#1a1a1a" stroke-width="0.32">0.2</text>
<line x1="40.80" y1="288.78" x2="42.30" y2="288.78" stroke="#333" stroke-width="0.85" />
<line x1="214.60" y1="288.78" x2="213.40" y2="288.78" stroke="#333" stroke-width="0.85" />
<line x1="39.50" y1="283.07" x2="42.30" y2="283.07" stroke="#222" stroke-width="0.9" />
<line x1="214.60" y1="283.07" x2="212.40" y2="283.07" stroke="#222" stroke-width="0.9" />
<text x="37.40" y="286.02" font-size="8.5" fill="#1a1a1a" font-weight="bold" text-anchor="end" textLength="10.20" lengthAdjust="spacingAndGlyphs"  stroke="#1a1a1a" stroke-width="0.32">0.3</text>
<line x1="40.80" y1="277.37" x2="42.30" y2="277.37" stroke="#333" stroke-width="0.85" />
<line x1="214.60" y1="277.37" x2="213.40" y2="277.37" stroke="#333" stroke-width="0.85" />
<line x1="39.50" y1="271.66" x2="42.30" y2="271.66" stroke="#222" stroke-width="0.9" />
<line x1="214.60" y1="271.66" x2="212.40" y2="271.66" stroke="#222" stroke-width="0.9" />
<text x="37.40" y="274.61" font-size="8.5" fill="#1a1a1a" font-weight="bold" text-anchor="end" textLength="10.20" lengthAdjust="spacingAndGlyphs"  stroke="#1a1a1a" stroke-width="0.32">0.4</text>
<line x1="40.80" y1="265.96" x2="42.30" y2="265.96" stroke="#333" stroke-width="0.85" />
<line x1="214.60" y1="265.96" x2="213.40" y2="265.96" stroke="#333" stroke-width="0.85" />
<line x1="39.50" y1="260.25" x2="42.30" y2="260.25" stroke="#222" stroke-width="0.9" />
<line x1="214.60" y1="260.25" x2="212.40" y2="260.25" stroke="#222" stroke-width="0.9" />
<text x="37.40" y="263.20" font-size="8.5" fill="#1a1a1a" font-weight="bold" text-anchor="end" textLength="10.20" lengthAdjust="spacingAndGlyphs"  stroke="#1a1a1a" stroke-width="0.32">0.5</text>
<line x1="40.80" y1="254.55" x2="42.30" y2="254.55" stroke="#333" stroke-width="0.85" />
<line x1="214.60" y1="254.55" x2="213.40" y2="254.55" stroke="#333" stroke-width="0.85" />
<line x1="39.50" y1="248.84" x2="42.30" y2="248.84" stroke="#222" stroke-width="0.9" />
<line x1="214.60" y1="248.84" x2="212.40" y2="248.84" stroke="#222" stroke-width="0.9" />
<text x="37.40" y="251.79" font-size="8.5" fill="#1a1a1a" font-weight="bold" text-anchor="end" textLength="10.20" lengthAdjust="spacingAndGlyphs"  stroke="#1a1a1a" stroke-width="0.32">0.6</text>
<line x1="40.80" y1="243.14" x2="42.30" y2="243.14" stroke="#333" stroke-width="0.85" />
<line x1="214.60" y1="243.14" x2="213.40" y2="243.14" stroke="#333" stroke-width="0.85" />
<line x1="39.50" y1="237.43" x2="42.30" y2="237.43" stroke="#222" stroke-width="0.9" />
<line x1="214.60" y1="237.43" x2="212.40" y2="237.43" stroke="#222" stroke-width="0.9" />
<text x="37.40" y="240.38" font-size="8.5" fill="#1a1a1a" font-weight="bold" text-anchor="end" textLength="10.20" lengthAdjust="spacingAndGlyphs"  stroke="#1a1a1a" stroke-width="0.32">0.7</text>
<line x1="40.80" y1="231.73" x2="42.30" y2="231.73" stroke="#333" stroke-width="0.85" />
<line x1="214.60" y1="231.73" x2="213.40" y2="231.73" stroke="#333" stroke-width="0.85" />
<line x1="39.50" y1="226.02" x2="42.30" y2="226.02" stroke="#222" stroke-width="0.9" />
<line x1="214.60" y1="226.02" x2="212.40" y2="226.02" stroke="#222" stroke-width="0.9" />
<text x="37.40" y="228.97" font-size="8.5" fill="#1a1a1a" font-weight="bold" text-anchor="end" textLength="10.20" lengthAdjust="spacingAndGlyphs"  stroke="#1a1a1a" stroke-width="0.32">0.8</text>
<line x1="40.80" y1="220.31" x2="42.30" y2="220.31" stroke="#333" stroke-width="0.85" />
<line x1="214.60" y1="220.31" x2="213.40" y2="220.31" stroke="#333" stroke-width="0.85" />
<line x1="39.50" y1="214.61" x2="42.30" y2="214.61" stroke="#222" stroke-width="0.9" />
<line x1="214.60" y1="214.61" x2="212.40" y2="214.61" stroke="#222" stroke-width="0.9" />
<text x="37.40" y="217.56" font-size="8.5" fill="#1a1a1a" font-weight="bold" text-anchor="end" textLength="10.20" lengthAdjust="spacingAndGlyphs"  stroke="#1a1a1a" stroke-width="0.32">0.9</text>
<line x1="40.80" y1="208.91" x2="42.30" y2="208.91" stroke="#333" stroke-width="0.85" />
<line x1="214.60" y1="208.91" x2="213.40" y2="208.91" stroke="#333" stroke-width="0.85" />
<line x1="39.50" y1="203.20" x2="42.30" y2="203.20" stroke="#222" stroke-width="0.9" />
<line x1="214.60" y1="203.20" x2="212.40" y2="203.20" stroke="#222" stroke-width="0.9" />
<text x="37.40" y="206.15" font-size="8.5" fill="#1a1a1a" font-weight="bold" text-anchor="end" textLength="10.20" lengthAdjust="spacingAndGlyphs"  stroke="#1a1a1a" stroke-width="0.32">1.0</text>
<line x1="40.80" y1="197.50" x2="42.30" y2="197.50" stroke="#333" stroke-width="0.85" />
<line x1="214.60" y1="197.50" x2="213.40" y2="197.50" stroke="#333" stroke-width="0.85" />
<line x1="39.50" y1="191.79" x2="42.30" y2="191.79" stroke="#222" stroke-width="0.9" />
<line x1="214.60" y1="191.79" x2="212.40" y2="191.79" stroke="#222" stroke-width="0.9" />
<text x="37.40" y="194.74" font-size="8.5" fill="#1a1a1a" font-weight="bold" text-anchor="end" textLength="10.20" lengthAdjust="spacingAndGlyphs"  stroke="#1a1a1a" stroke-width="0.32">1.1</text>
<line x1="40.80" y1="186.09" x2="42.30" y2="186.09" stroke="#333" stroke-width="0.85" />
<line x1="214.60" y1="186.09" x2="213.40" y2="186.09" stroke="#333" stroke-width="0.85" />
<line x1="39.50" y1="180.38" x2="42.30" y2="180.38" stroke="#222" stroke-width="0.9" />
<line x1="214.60" y1="180.38" x2="212.40" y2="180.38" stroke="#222" stroke-width="0.9" />
<text x="37.40" y="183.33" font-size="8.5" fill="#1a1a1a" font-weight="bold" text-anchor="end" textLength="10.20" lengthAdjust="spacingAndGlyphs"  stroke="#1a1a1a" stroke-width="0.32">1.2</text>
<line x1="42.38" y1="317.30" x2="42.38" y2="318.80" stroke="#333" stroke-width="0.85" />
<line x1="42.38" y1="180.10" x2="42.38" y2="181.40" stroke="#333" stroke-width="0.85" />
<line x1="45.24" y1="317.30" x2="45.24" y2="318.80" stroke="#333" stroke-width="0.85" />
<line x1="45.24" y1="180.10" x2="45.24" y2="181.40" stroke="#333" stroke-width="0.85" />
<line x1="47.46" y1="317.30" x2="47.46" y2="318.80" stroke="#333" stroke-width="0.85" />
<line x1="47.46" y1="180.10" x2="47.46" y2="181.40" stroke="#333" stroke-width="0.85" />
<line x1="49.27" y1="317.30" x2="49.27" y2="318.80" stroke="#333" stroke-width="0.85" />
<line x1="49.27" y1="180.10" x2="49.27" y2="181.40" stroke="#333" stroke-width="0.85" />
<line x1="50.80" y1="317.30" x2="50.80" y2="318.80" stroke="#333" stroke-width="0.85" />
<line x1="50.80" y1="180.10" x2="50.80" y2="181.40" stroke="#333" stroke-width="0.85" />
<line x1="52.13" y1="317.30" x2="52.13" y2="318.80" stroke="#333" stroke-width="0.85" />
<line x1="52.13" y1="180.10" x2="52.13" y2="181.40" stroke="#333" stroke-width="0.85" />
<line x1="53.30" y1="317.30" x2="53.30" y2="318.80" stroke="#333" stroke-width="0.85" />
<line x1="53.30" y1="180.10" x2="53.30" y2="181.40" stroke="#333" stroke-width="0.85" />
<line x1="54.35" y1="317.30" x2="54.35" y2="319.90" stroke="#222" stroke-width="0.9" />
<line x1="54.35" y1="180.10" x2="54.35" y2="182.30" stroke="#222" stroke-width="0.9" />
<line x1="61.24" y1="317.30" x2="61.24" y2="318.80" stroke="#333" stroke-width="0.85" />
<line x1="61.24" y1="180.10" x2="61.24" y2="181.40" stroke="#333" stroke-width="0.85" />
<line x1="65.28" y1="317.30" x2="65.28" y2="318.80" stroke="#333" stroke-width="0.85" />
<line x1="65.28" y1="180.10" x2="65.28" y2="181.40" stroke="#333" stroke-width="0.85" />
<line x1="68.14" y1="317.30" x2="68.14" y2="318.80" stroke="#333" stroke-width="0.85" />
<line x1="68.14" y1="180.10" x2="68.14" y2="181.40" stroke="#333" stroke-width="0.85" />
<line x1="70.36" y1="317.30" x2="70.36" y2="318.80" stroke="#333" stroke-width="0.85" />
<line x1="70.36" y1="180.10" x2="70.36" y2="181.40" stroke="#333" stroke-width="0.85" />
<line x1="72.17" y1="317.30" x2="72.17" y2="318.80" stroke="#333" stroke-width="0.85" />
<line x1="72.17" y1="180.10" x2="72.17" y2="181.40" stroke="#333" stroke-width="0.85" />
<line x1="73.70" y1="317.30" x2="73.70" y2="318.80" stroke="#333" stroke-width="0.85" />
<line x1="73.70" y1="180.10" x2="73.70" y2="181.40" stroke="#333" stroke-width="0.85" />
<line x1="75.03" y1="317.30" x2="75.03" y2="318.80" stroke="#333" stroke-width="0.85" />
<line x1="75.03" y1="180.10" x2="75.03" y2="181.40" stroke="#333" stroke-width="0.85" />
<line x1="76.20" y1="317.30" x2="76.20" y2="318.80" stroke="#333" stroke-width="0.85" />
<line x1="76.20" y1="180.10" x2="76.20" y2="181.40" stroke="#333" stroke-width="0.85" />
<line x1="77.25" y1="317.30" x2="77.25" y2="319.90" stroke="#222" stroke-width="0.9" />
<line x1="77.25" y1="180.10" x2="77.25" y2="182.30" stroke="#222" stroke-width="0.9" />
<line x1="84.14" y1="317.30" x2="84.14" y2="318.80" stroke="#333" stroke-width="0.85" />
<line x1="84.14" y1="180.10" x2="84.14" y2="181.40" stroke="#333" stroke-width="0.85" />
<line x1="88.18" y1="317.30" x2="88.18" y2="318.80" stroke="#333" stroke-width="0.85" />
<line x1="88.18" y1="180.10" x2="88.18" y2="181.40" stroke="#333" stroke-width="0.85" />
<line x1="91.04" y1="317.30" x2="91.04" y2="318.80" stroke="#333" stroke-width="0.85" />
<line x1="91.04" y1="180.10" x2="91.04" y2="181.40" stroke="#333" stroke-width="0.85" />
<line x1="93.26" y1="317.30" x2="93.26" y2="318.80" stroke="#333" stroke-width="0.85" />
<line x1="93.26" y1="180.10" x2="93.26" y2="181.40" stroke="#333" stroke-width="0.85" />
<line x1="95.07" y1="317.30" x2="95.07" y2="318.80" stroke="#333" stroke-width="0.85" />
<line x1="95.07" y1="180.10" x2="95.07" y2="181.40" stroke="#333" stroke-width="0.85" />
<line x1="96.60" y1="317.30" x2="96.60" y2="318.80" stroke="#333" stroke-width="0.85" />
<line x1="96.60" y1="180.10" x2="96.60" y2="181.40" stroke="#333" stroke-width="0.85" />
<line x1="97.93" y1="317.30" x2="97.93" y2="318.80" stroke="#333" stroke-width="0.85" />
<line x1="97.93" y1="180.10" x2="97.93" y2="181.40" stroke="#333" stroke-width="0.85" />
<line x1="99.10" y1="317.30" x2="99.10" y2="318.80" stroke="#333" stroke-width="0.85" />
<line x1="99.10" y1="180.10" x2="99.10" y2="181.40" stroke="#333" stroke-width="0.85" />
<line x1="100.15" y1="317.30" x2="100.15" y2="319.90" stroke="#222" stroke-width="0.9" />
<line x1="100.15" y1="180.10" x2="100.15" y2="182.30" stroke="#222" stroke-width="0.9" />
<line x1="107.04" y1="317.30" x2="107.04" y2="318.80" stroke="#333" stroke-width="0.85" />
<line x1="107.04" y1="180.10" x2="107.04" y2="181.40" stroke="#333" stroke-width="0.85" />
<line x1="111.08" y1="317.30" x2="111.08" y2="318.80" stroke="#333" stroke-width="0.85" />
<line x1="111.08" y1="180.10" x2="111.08" y2="181.40" stroke="#333" stroke-width="0.85" />
<line x1="113.94" y1="317.30" x2="113.94" y2="318.80" stroke="#333" stroke-width="0.85" />
<line x1="113.94" y1="180.10" x2="113.94" y2="181.40" stroke="#333" stroke-width="0.85" />
<line x1="116.16" y1="317.30" x2="116.16" y2="318.80" stroke="#333" stroke-width="0.85" />
<line x1="116.16" y1="180.10" x2="116.16" y2="181.40" stroke="#333" stroke-width="0.85" />
<line x1="117.97" y1="317.30" x2="117.97" y2="318.80" stroke="#333" stroke-width="0.85" />
<line x1="117.97" y1="180.10" x2="117.97" y2="181.40" stroke="#333" stroke-width="0.85" />
<line x1="119.50" y1="317.30" x2="119.50" y2="318.80" stroke="#333" stroke-width="0.85" />
<line x1="119.50" y1="180.10" x2="119.50" y2="181.40" stroke="#333" stroke-width="0.85" />
<line x1="120.83" y1="317.30" x2="120.83" y2="318.80" stroke="#333" stroke-width="0.85" />
<line x1="120.83" y1="180.10" x2="120.83" y2="181.40" stroke="#333" stroke-width="0.85" />
<line x1="122.00" y1="317.30" x2="122.00" y2="318.80" stroke="#333" stroke-width="0.85" />
<line x1="122.00" y1="180.10" x2="122.00" y2="181.40" stroke="#333" stroke-width="0.85" />
<line x1="123.05" y1="317.30" x2="123.05" y2="319.90" stroke="#222" stroke-width="0.9" />
<line x1="123.05" y1="180.10" x2="123.05" y2="182.30" stroke="#222" stroke-width="0.9" />
<line x1="129.94" y1="317.30" x2="129.94" y2="318.80" stroke="#333" stroke-width="0.85" />
<line x1="129.94" y1="180.10" x2="129.94" y2="181.40" stroke="#333" stroke-width="0.85" />
<line x1="133.98" y1="317.30" x2="133.98" y2="318.80" stroke="#333" stroke-width="0.85" />
<line x1="133.98" y1="180.10" x2="133.98" y2="181.40" stroke="#333" stroke-width="0.85" />
<line x1="136.84" y1="317.30" x2="136.84" y2="318.80" stroke="#333" stroke-width="0.85" />
<line x1="136.84" y1="180.10" x2="136.84" y2="181.40" stroke="#333" stroke-width="0.85" />
<line x1="139.06" y1="317.30" x2="139.06" y2="318.80" stroke="#333" stroke-width="0.85" />
<line x1="139.06" y1="180.10" x2="139.06" y2="181.40" stroke="#333" stroke-width="0.85" />
<line x1="140.87" y1="317.30" x2="140.87" y2="318.80" stroke="#333" stroke-width="0.85" />
<line x1="140.87" y1="180.10" x2="140.87" y2="181.40" stroke="#333" stroke-width="0.85" />
<line x1="142.40" y1="317.30" x2="142.40" y2="318.80" stroke="#333" stroke-width="0.85" />
<line x1="142.40" y1="180.10" x2="142.40" y2="181.40" stroke="#333" stroke-width="0.85" />
<line x1="143.73" y1="317.30" x2="143.73" y2="318.80" stroke="#333" stroke-width="0.85" />
<line x1="143.73" y1="180.10" x2="143.73" y2="181.40" stroke="#333" stroke-width="0.85" />
<line x1="144.90" y1="317.30" x2="144.90" y2="318.80" stroke="#333" stroke-width="0.85" />
<line x1="144.90" y1="180.10" x2="144.90" y2="181.40" stroke="#333" stroke-width="0.85" />
<line x1="145.95" y1="317.30" x2="145.95" y2="319.90" stroke="#222" stroke-width="0.9" />
<line x1="145.95" y1="180.10" x2="145.95" y2="182.30" stroke="#222" stroke-width="0.9" />
<line x1="152.84" y1="317.30" x2="152.84" y2="318.80" stroke="#333" stroke-width="0.85" />
<line x1="152.84" y1="180.10" x2="152.84" y2="181.40" stroke="#333" stroke-width="0.85" />
<line x1="156.88" y1="317.30" x2="156.88" y2="318.80" stroke="#333" stroke-width="0.85" />
<line x1="156.88" y1="180.10" x2="156.88" y2="181.40" stroke="#333" stroke-width="0.85" />
<line x1="159.74" y1="317.30" x2="159.74" y2="318.80" stroke="#333" stroke-width="0.85" />
<line x1="159.74" y1="180.10" x2="159.74" y2="181.40" stroke="#333" stroke-width="0.85" />
<line x1="161.96" y1="317.30" x2="161.96" y2="318.80" stroke="#333" stroke-width="0.85" />
<line x1="161.96" y1="180.10" x2="161.96" y2="181.40" stroke="#333" stroke-width="0.85" />
<line x1="163.77" y1="317.30" x2="163.77" y2="318.80" stroke="#333" stroke-width="0.85" />
<line x1="163.77" y1="180.10" x2="163.77" y2="181.40" stroke="#333" stroke-width="0.85" />
<line x1="165.30" y1="317.30" x2="165.30" y2="318.80" stroke="#333" stroke-width="0.85" />
<line x1="165.30" y1="180.10" x2="165.30" y2="181.40" stroke="#333" stroke-width="0.85" />
<line x1="166.63" y1="317.30" x2="166.63" y2="318.80" stroke="#333" stroke-width="0.85" />
<line x1="166.63" y1="180.10" x2="166.63" y2="181.40" stroke="#333" stroke-width="0.85" />
<line x1="167.80" y1="317.30" x2="167.80" y2="318.80" stroke="#333" stroke-width="0.85" />
<line x1="167.80" y1="180.10" x2="167.80" y2="181.40" stroke="#333" stroke-width="0.85" />
<line x1="168.85" y1="317.30" x2="168.85" y2="319.90" stroke="#222" stroke-width="0.9" />
<line x1="168.85" y1="180.10" x2="168.85" y2="182.30" stroke="#222" stroke-width="0.9" />
<line x1="175.74" y1="317.30" x2="175.74" y2="318.80" stroke="#333" stroke-width="0.85" />
<line x1="175.74" y1="180.10" x2="175.74" y2="181.40" stroke="#333" stroke-width="0.85" />
<line x1="179.78" y1="317.30" x2="179.78" y2="318.80" stroke="#333" stroke-width="0.85" />
<line x1="179.78" y1="180.10" x2="179.78" y2="181.40" stroke="#333" stroke-width="0.85" />
<line x1="182.64" y1="317.30" x2="182.64" y2="318.80" stroke="#333" stroke-width="0.85" />
<line x1="182.64" y1="180.10" x2="182.64" y2="181.40" stroke="#333" stroke-width="0.85" />
<line x1="184.86" y1="317.30" x2="184.86" y2="318.80" stroke="#333" stroke-width="0.85" />
<line x1="184.86" y1="180.10" x2="184.86" y2="181.40" stroke="#333" stroke-width="0.85" />
<line x1="186.67" y1="317.30" x2="186.67" y2="318.80" stroke="#333" stroke-width="0.85" />
<line x1="186.67" y1="180.10" x2="186.67" y2="181.40" stroke="#333" stroke-width="0.85" />
<line x1="188.20" y1="317.30" x2="188.20" y2="318.80" stroke="#333" stroke-width="0.85" />
<line x1="188.20" y1="180.10" x2="188.20" y2="181.40" stroke="#333" stroke-width="0.85" />
<line x1="189.53" y1="317.30" x2="189.53" y2="318.80" stroke="#333" stroke-width="0.85" />
<line x1="189.53" y1="180.10" x2="189.53" y2="181.40" stroke="#333" stroke-width="0.85" />
<line x1="190.70" y1="317.30" x2="190.70" y2="318.80" stroke="#333" stroke-width="0.85" />
<line x1="190.70" y1="180.10" x2="190.70" y2="181.40" stroke="#333" stroke-width="0.85" />
<line x1="191.75" y1="317.30" x2="191.75" y2="319.90" stroke="#222" stroke-width="0.9" />
<line x1="191.75" y1="180.10" x2="191.75" y2="182.30" stroke="#222" stroke-width="0.9" />
<line x1="198.64" y1="317.30" x2="198.64" y2="318.80" stroke="#333" stroke-width="0.85" />
<line x1="198.64" y1="180.10" x2="198.64" y2="181.40" stroke="#333" stroke-width="0.85" />
<line x1="202.68" y1="317.30" x2="202.68" y2="318.80" stroke="#333" stroke-width="0.85" />
<line x1="202.68" y1="180.10" x2="202.68" y2="181.40" stroke="#333" stroke-width="0.85" />
<line x1="205.54" y1="317.30" x2="205.54" y2="318.80" stroke="#333" stroke-width="0.85" />
<line x1="205.54" y1="180.10" x2="205.54" y2="181.40" stroke="#333" stroke-width="0.85" />
<line x1="207.76" y1="317.30" x2="207.76" y2="318.80" stroke="#333" stroke-width="0.85" />
<line x1="207.76" y1="180.10" x2="207.76" y2="181.40" stroke="#333" stroke-width="0.85" />
<line x1="209.57" y1="317.30" x2="209.57" y2="318.80" stroke="#333" stroke-width="0.85" />
<line x1="209.57" y1="180.10" x2="209.57" y2="181.40" stroke="#333" stroke-width="0.85" />
<line x1="211.10" y1="317.30" x2="211.10" y2="318.80" stroke="#333" stroke-width="0.85" />
<line x1="211.10" y1="180.10" x2="211.10" y2="181.40" stroke="#333" stroke-width="0.85" />
<line x1="212.43" y1="317.30" x2="212.43" y2="318.80" stroke="#333" stroke-width="0.85" />
<line x1="212.43" y1="180.10" x2="212.43" y2="181.40" stroke="#333" stroke-width="0.85" />
<line x1="213.60" y1="317.30" x2="213.60" y2="318.80" stroke="#333" stroke-width="0.85" />
<line x1="213.60" y1="180.10" x2="213.60" y2="181.40" stroke="#333" stroke-width="0.85" />
<line x1="214.60" y1="317.30" x2="214.60" y2="319.90" stroke="#222" stroke-width="0.9" />
<text x="48.35" y="328.90" font-size="8.3" font-weight="bold" fill="#1a1a1a" textLength="8.4" lengthAdjust="spacingAndGlyphs">10</text>
<text x="56.95" y="325.30" font-size="4.8" font-weight="bold" fill="#1a1a1a">-7</text>
<text x="71.25" y="328.90" font-size="8.3" font-weight="bold" fill="#1a1a1a" textLength="8.4" lengthAdjust="spacingAndGlyphs">10</text>
<text x="79.85" y="325.30" font-size="4.8" font-weight="bold" fill="#1a1a1a">-6</text>
<text x="94.15" y="328.90" font-size="8.3" font-weight="bold" fill="#1a1a1a" textLength="8.4" lengthAdjust="spacingAndGlyphs">10</text>
<text x="102.75" y="325.30" font-size="4.8" font-weight="bold" fill="#1a1a1a">-5</text>
<text x="117.05" y="328.90" font-size="8.3" font-weight="bold" fill="#1a1a1a" textLength="8.4" lengthAdjust="spacingAndGlyphs">10</text>
<text x="125.65" y="325.30" font-size="4.8" font-weight="bold" fill="#1a1a1a">-4</text>
<text x="139.95" y="328.90" font-size="8.3" font-weight="bold" fill="#1a1a1a" textLength="8.4" lengthAdjust="spacingAndGlyphs">10</text>
<text x="148.55" y="325.30" font-size="4.8" font-weight="bold" fill="#1a1a1a">-3</text>
<text x="162.85" y="328.90" font-size="8.3" font-weight="bold" fill="#1a1a1a" textLength="8.4" lengthAdjust="spacingAndGlyphs">10</text>
<text x="171.45" y="325.30" font-size="4.8" font-weight="bold" fill="#1a1a1a">-2</text>
<text x="185.75" y="328.90" font-size="8.3" font-weight="bold" fill="#1a1a1a" textLength="8.4" lengthAdjust="spacingAndGlyphs">10</text>
<text x="194.35" y="325.30" font-size="4.8" font-weight="bold" fill="#1a1a1a">-1</text>
<text x="208.65" y="328.90" font-size="8.3" font-weight="bold" fill="#1a1a1a" textLength="8.4" lengthAdjust="spacingAndGlyphs">10</text>
<text x="217.25" y="325.30" font-size="4.8" font-weight="bold" fill="#1a1a1a">0</text>
<rect x="42.30" y="180.10" width="172.30" height="137.20" fill="none" stroke="#111" stroke-width="1.1" />
<text x="100.10" y="338.10" font-size="8.1" fill="#1a1a1a" font-weight="bold" text-anchor="start" textLength="57.10" lengthAdjust="spacingAndGlyphs"  stroke="#1a1a1a" stroke-width="0.32">Pulse width (s)</text>
<text transform="translate(18.90,296.70) rotate(-90)" x="0" y="0" font-size="8.1" fill="#1a1a1a" font-weight="bold" text-anchor="start" textLength="95.80" lengthAdjust="spacingAndGlyphs"  stroke="#1a1a1a" stroke-width="0.32">Fraction of switched area</text>
<path d="M54.30,313.70 C58.58,313.55 70.72,313.22 80.00,312.80 C89.28,312.38 100.00,311.83 110.00,311.20 C120.00,310.57 130.18,309.82 140.00,309.00 C149.82,308.18 164.08,306.75 168.90,306.30" fill="none" stroke="#6a4aa8" stroke-width="1.1" stroke-linecap="round" />
<path d="M54.30,313.90 C58.58,313.78 70.72,313.48 80.00,313.20 C89.28,312.92 100.00,312.57 110.00,312.20 C120.00,311.83 130.18,311.47 140.00,311.00 C149.82,310.53 164.08,309.67 168.90,309.40" fill="none" stroke="#4a1c6c" stroke-width="1.1" stroke-linecap="round" />
<path d="M54.30,312.80 C54.62,312.80 55.57,312.80 56.21,312.80 C56.85,312.80 57.48,312.80 58.12,312.80 C58.76,312.80 59.39,312.80 60.03,312.80 C60.67,312.80 61.30,312.80 61.94,312.80 C62.58,312.80 63.21,312.80 63.85,312.80 C64.49,312.80 65.12,312.80 65.76,312.80 C66.40,312.80 67.03,312.80 67.67,312.80 C68.31,312.80 68.94,312.80 69.58,312.80 C70.22,312.80 70.85,312.80 71.49,312.80 C72.13,312.80 72.76,312.80 73.40,312.80 C74.04,312.80 74.67,312.80 75.31,312.80 C75.95,312.80 76.58,312.80 77.22,312.80 C77.86,312.79 78.49,312.79 79.13,312.79 C79.77,312.79 80.40,312.79 81.04,312.79 C81.68,312.79 82.31,312.79 82.95,312.79 C83.59,312.79 84.22,312.79 84.86,312.79 C85.50,312.79 86.13,312.79 86.77,312.79 C87.41,312.78 88.04,312.78 88.68,312.78 C89.32,312.78 89.95,312.78 90.59,312.78 C91.23,312.78 91.86,312.77 92.50,312.77 C93.14,312.77 93.77,312.77 94.41,312.76 C95.05,312.76 95.68,312.76 96.32,312.76 C96.96,312.75 97.59,312.75 98.23,312.74 C98.87,312.74 99.50,312.74 100.14,312.73 C100.78,312.73 101.41,312.72 102.05,312.71 C102.69,312.71 103.32,312.70 103.96,312.69 C104.60,312.68 105.23,312.67 105.87,312.66 C106.51,312.65 107.14,312.64 107.78,312.63 C108.42,312.62 109.05,312.60 109.69,312.59 C110.33,312.57 110.96,312.55 111.60,312.53 C112.24,312.51 112.87,312.49 113.51,312.47 C114.15,312.44 114.78,312.41 115.42,312.38 C116.06,312.35 116.69,312.32 117.33,312.28 C117.97,312.24 118.60,312.20 119.24,312.15 C119.88,312.10 120.51,312.05 121.15,311.98 C121.79,311.92 122.42,311.86 123.06,311.78 C123.70,311.71 124.33,311.62 124.97,311.53 C125.61,311.43 126.24,311.33 126.88,311.21 C127.52,311.10 128.15,310.97 128.79,310.82 C129.43,310.68 130.06,310.52 130.70,310.34 C131.34,310.16 131.97,309.96 132.61,309.74 C133.25,309.51 133.88,309.27 134.52,309.00 C135.16,308.72 135.79,308.43 136.43,308.09 C137.07,307.75 137.70,307.39 138.34,306.98 C138.98,306.57 139.61,306.13 140.25,305.63 C140.89,305.14 141.52,304.60 142.16,304.01 C142.80,303.41 143.43,302.77 144.07,302.06 C144.71,301.36 145.34,300.60 145.98,299.77 C146.62,298.94 147.25,298.06 147.89,297.10 C148.53,296.14 149.16,295.12 149.80,294.02 C150.44,292.93 151.07,291.77 151.71,290.54 C152.35,289.31 152.98,288.01 153.62,286.63 C154.26,285.26 154.89,283.82 155.53,282.29 C156.17,280.76 156.80,279.17 157.44,277.46 C158.08,275.75 158.71,273.95 159.35,272.02 C159.99,270.08 160.62,268.03 161.26,265.84 C161.90,263.65 162.53,261.29 163.17,258.88 C163.81,256.47 164.44,253.88 165.08,251.38 C165.72,248.88 166.35,246.27 166.99,243.89 C167.63,241.50 168.58,238.20 168.90,237.06" fill="none" stroke="#5cc0e8" stroke-width="1.1" stroke-linecap="round" />
<path d="M54.30,311.70 C54.62,311.70 55.57,311.69 56.21,311.69 C56.85,311.68 57.48,311.67 58.12,311.67 C58.76,311.66 59.39,311.65 60.03,311.64 C60.67,311.63 61.30,311.62 61.94,311.61 C62.58,311.60 63.21,311.59 63.85,311.58 C64.49,311.57 65.12,311.55 65.76,311.54 C66.40,311.52 67.03,311.51 67.67,311.49 C68.31,311.47 68.94,311.46 69.58,311.44 C70.22,311.42 70.85,311.39 71.49,311.37 C72.13,311.35 72.76,311.32 73.40,311.29 C74.04,311.27 74.67,311.24 75.31,311.20 C75.95,311.17 76.58,311.13 77.22,311.09 C77.86,311.06 78.49,311.01 79.13,310.97 C79.77,310.92 80.40,310.87 81.04,310.82 C81.68,310.77 82.31,310.71 82.95,310.64 C83.59,310.58 84.22,310.51 84.86,310.44 C85.50,310.36 86.13,310.28 86.77,310.20 C87.41,310.11 88.04,310.02 88.68,309.91 C89.32,309.81 89.95,309.70 90.59,309.58 C91.23,309.46 91.86,309.33 92.50,309.19 C93.14,309.05 93.77,308.90 94.41,308.73 C95.05,308.57 95.68,308.39 96.32,308.20 C96.96,308.01 97.59,307.80 98.23,307.57 C98.87,307.35 99.50,307.11 100.14,306.85 C100.78,306.59 101.41,306.31 102.05,306.01 C102.69,305.71 103.32,305.38 103.96,305.03 C104.60,304.68 105.23,304.31 105.87,303.91 C106.51,303.51 107.14,303.08 107.78,302.62 C108.42,302.15 109.05,301.66 109.69,301.14 C110.33,300.61 110.96,300.05 111.60,299.45 C112.24,298.85 112.87,298.22 113.51,297.55 C114.15,296.87 114.78,296.16 115.42,295.40 C116.06,294.65 116.69,293.85 117.33,293.01 C117.97,292.17 118.60,291.29 119.24,290.37 C119.88,289.44 120.51,288.47 121.15,287.47 C121.79,286.46 122.42,285.41 123.06,284.32 C123.70,283.23 124.33,282.10 124.97,280.93 C125.61,279.77 126.24,278.56 126.88,277.33 C127.52,276.09 128.15,274.82 128.79,273.53 C129.43,272.23 130.06,270.90 130.70,269.54 C131.34,268.19 131.97,266.80 132.61,265.40 C133.25,264.00 133.88,262.56 134.52,261.13 C135.16,259.69 135.79,258.23 136.43,256.78 C137.07,255.33 137.70,253.87 138.34,252.44 C138.98,251.01 139.61,249.59 140.25,248.21 C140.89,246.83 141.52,245.47 142.16,244.16 C142.80,242.85 143.43,241.58 144.07,240.36 C144.71,239.15 145.34,237.98 145.98,236.87 C146.62,235.75 147.25,234.69 147.89,233.69 C148.53,232.68 149.16,231.73 149.80,230.83 C150.44,229.93 151.07,229.09 151.71,228.29 C152.35,227.49 152.98,226.75 153.62,226.05 C154.26,225.35 154.89,224.70 155.53,224.10 C156.17,223.49 156.80,222.92 157.44,222.40 C158.08,221.87 158.71,221.38 159.35,220.93 C159.99,220.48 160.62,220.06 161.26,219.67 C161.90,219.28 162.53,218.93 163.17,218.59 C163.81,218.26 164.44,217.96 165.08,217.68 C165.72,217.40 166.35,217.14 166.99,216.90 C167.63,216.66 168.58,216.35 168.90,216.24" fill="none" stroke="#62aa44" stroke-width="1.1" stroke-linecap="round" />
<path d="M54.30,311.36 C54.62,311.36 55.57,311.35 56.21,311.35 C56.85,311.34 57.48,311.34 58.12,311.34 C58.76,311.33 59.39,311.33 60.03,311.32 C60.67,311.31 61.30,311.31 61.94,311.30 C62.58,311.29 63.21,311.29 63.85,311.28 C64.49,311.27 65.12,311.26 65.76,311.25 C66.40,311.24 67.03,311.23 67.67,311.21 C68.31,311.20 68.94,311.19 69.58,311.17 C70.22,311.15 70.85,311.14 71.49,311.12 C72.13,311.10 72.76,311.07 73.40,311.05 C74.04,311.02 74.67,311.00 75.31,310.97 C75.95,310.94 76.58,310.90 77.22,310.86 C77.86,310.83 78.49,310.79 79.13,310.74 C79.77,310.69 80.40,310.64 81.04,310.58 C81.68,310.53 82.31,310.46 82.95,310.39 C83.59,310.32 84.22,310.24 84.86,310.16 C85.50,310.07 86.13,309.97 86.77,309.87 C87.41,309.76 88.04,309.64 88.68,309.51 C89.32,309.38 89.95,309.24 90.59,309.07 C91.23,308.91 91.86,308.74 92.50,308.54 C93.14,308.34 93.77,308.13 94.41,307.89 C95.05,307.65 95.68,307.39 96.32,307.09 C96.96,306.80 97.59,306.48 98.23,306.13 C98.87,305.77 99.50,305.39 100.14,304.96 C100.78,304.53 101.41,304.07 102.05,303.56 C102.69,303.05 103.32,302.50 103.96,301.89 C104.60,301.28 105.23,300.62 105.87,299.90 C106.51,299.18 107.14,298.41 107.78,297.57 C108.42,296.73 109.05,295.84 109.69,294.87 C110.33,293.90 110.96,292.86 111.60,291.76 C112.24,290.66 112.87,289.48 113.51,288.24 C114.15,287.00 114.78,285.69 115.42,284.31 C116.06,282.93 116.69,281.48 117.33,279.97 C117.97,278.45 118.60,276.87 119.24,275.22 C119.88,273.56 120.51,271.84 121.15,270.04 C121.79,268.24 122.42,266.37 123.06,264.42 C123.70,262.48 124.33,260.44 124.97,258.38 C125.61,256.31 126.24,254.15 126.88,252.01 C127.52,249.88 128.15,247.68 128.79,245.58 C129.43,243.47 130.06,241.36 130.70,239.38 C131.34,237.40 131.97,235.49 132.61,233.71 C133.25,231.94 133.88,230.28 134.52,228.76 C135.16,227.23 135.79,225.84 136.43,224.57 C137.07,223.29 137.70,222.16 138.34,221.12 C138.98,220.08 139.61,219.16 140.25,218.33 C140.89,217.50 141.52,216.77 142.16,216.11 C142.80,215.45 143.43,214.88 144.07,214.36 C144.71,213.84 145.34,213.40 145.98,212.99 C146.62,212.59 147.25,212.24 147.89,211.93 C148.53,211.62 149.16,211.35 149.80,211.11 C150.44,210.86 151.07,210.66 151.71,210.47 C152.35,210.28 152.98,210.13 153.62,209.98 C154.26,209.84 154.89,209.72 155.53,209.61 C156.17,209.50 156.80,209.41 157.44,209.32 C158.08,209.24 158.71,209.17 159.35,209.10 C159.99,209.04 160.62,208.99 161.26,208.94 C161.90,208.89 162.53,208.85 163.17,208.81 C163.81,208.77 164.44,208.74 165.08,208.71 C165.72,208.68 166.35,208.66 166.99,208.64 C167.63,208.62 168.58,208.59 168.90,208.58" fill="none" stroke="#a8c83a" stroke-width="1.1" stroke-linecap="round" />
<path d="M54.40,301.60 C56.33,301.07 62.22,299.73 66.00,298.40 C69.78,297.07 73.43,295.63 77.10,293.60 C80.77,291.57 84.20,289.63 88.00,286.20 C91.80,282.77 96.23,277.62 99.90,273.00 C103.57,268.38 106.62,263.67 110.00,258.50 C113.38,253.33 116.03,247.05 120.20,242.00 C124.37,236.95 130.03,231.57 135.00,228.20 C139.97,224.83 144.35,223.68 150.00,221.80 C155.65,219.92 165.75,217.72 168.90,216.90" fill="none" stroke="#eedc3a" stroke-width="1.1" stroke-linecap="round" />
<path d="M54.40,284.30 C58.18,281.62 71.23,273.08 77.10,268.20 C82.97,263.32 85.93,258.62 89.60,255.00 C93.27,251.38 95.17,249.70 99.10,246.50 C103.03,243.30 107.22,239.15 113.20,235.80 C119.18,232.45 128.87,228.77 135.00,226.40 C141.13,224.03 144.35,223.02 150.00,221.60 C155.65,220.18 165.75,218.52 168.90,217.90" fill="none" stroke="#e2832e" stroke-width="1.1" stroke-linecap="round" />
<path d="M54.40,272.60 C58.18,269.75 72.00,259.30 77.10,255.50 C82.20,251.70 79.77,252.98 85.00,249.80 C90.23,246.62 100.17,240.43 108.50,236.40 C116.83,232.37 128.08,228.17 135.00,225.60 C141.92,223.03 144.35,222.37 150.00,221.00 C155.65,219.63 165.75,218.00 168.90,217.40" fill="none" stroke="#d83a36" stroke-width="1.1" stroke-linecap="round" />
<path d="M54.30,252.20 C58.12,250.17 69.47,243.62 77.20,240.00 C84.93,236.38 91.07,233.63 100.70,230.50 C110.33,227.37 123.63,223.78 135.00,221.20 C146.37,218.62 163.25,216.03 168.90,215.00" fill="none" stroke="#d43034" stroke-width="1.1" stroke-linecap="round" />
<path d="M54.30,222.70 C55.10,222.13 55.28,220.58 59.10,219.30 C62.92,218.02 68.72,216.50 77.20,215.00 C85.68,213.50 99.53,211.40 110.00,210.30 C120.47,209.20 130.18,208.88 140.00,208.40 C149.82,207.92 164.08,207.57 168.90,207.40" fill="none" stroke="#c42a2e" stroke-width="1.1" stroke-linecap="round" />
<path d="M54.30,218.80 C54.78,218.02 55.77,215.52 57.20,214.10 C58.63,212.68 59.57,211.48 62.90,210.30 C66.23,209.12 69.35,207.97 77.20,207.00 C85.05,206.03 99.53,205.02 110.00,204.50 C120.47,203.98 130.18,204.05 140.00,203.90 C149.82,203.75 164.08,203.65 168.90,203.60" fill="none" stroke="#8c1e22" stroke-width="1.1" stroke-linecap="round" />
<path d="M54.30,206.40 C58.12,206.15 67.92,205.37 77.20,204.90 C86.48,204.43 94.72,203.88 110.00,203.60 C125.28,203.32 159.08,203.27 168.90,203.20" fill="none" stroke="#2a1414" stroke-width="1.2" stroke-linecap="round" />
<rect x="52.80" y="204.90" width="3.00" height="3.00" fill="#2a1414"/>
<rect x="52.80" y="216.80" width="3.00" height="3.00" fill="#8c1e22"/>
<rect x="52.80" y="220.80" width="3.00" height="3.00" fill="#c42a2e"/>
<rect x="52.80" y="243.10" width="3.00" height="3.00" fill="#c42a2e"/>
<rect x="52.80" y="258.10" width="3.00" height="3.00" fill="#d43034"/>
<rect x="52.80" y="272.60" width="3.00" height="3.00" fill="#e2832e"/>
<rect x="52.80" y="289.70" width="3.00" height="3.00" fill="#eedc3a"/>
<rect x="52.80" y="306.00" width="3.00" height="3.00" fill="#a8c83a"/>
<rect x="52.80" y="307.70" width="3.00" height="3.00" fill="#62aa44"/>
<rect x="52.80" y="309.30" width="3.00" height="3.00" fill="#a8c83a"/>
<rect x="52.80" y="310.90" width="3.00" height="3.00" fill="#62aa44"/>
<rect x="52.80" y="312.60" width="3.00" height="3.00" fill="#3050b8"/>
<rect x="75.70" y="203.40" width="3.00" height="3.00" fill="#2a1414"/>
<rect x="75.70" y="211.60" width="3.00" height="3.00" fill="#8c1e22"/>
<rect x="75.70" y="222.10" width="3.00" height="3.00" fill="#c42a2e"/>
<rect x="75.70" y="246.90" width="3.00" height="3.00" fill="#d43034"/>
<rect x="75.70" y="260.20" width="3.00" height="3.00" fill="#d83a36"/>
<rect x="75.70" y="266.50" width="3.00" height="3.00" fill="#e2832e"/>
<rect x="75.70" y="286.90" width="3.00" height="3.00" fill="#eedc3a"/>
<rect x="75.70" y="303.50" width="3.00" height="3.00" fill="#a8c83a"/>
<rect x="75.70" y="306.00" width="3.00" height="3.00" fill="#5cc0e8"/>
<rect x="75.70" y="306.90" width="3.00" height="3.00" fill="#62aa44"/>
<rect x="75.70" y="309.00" width="3.00" height="3.00" fill="#5cc0e8"/>
<rect x="75.70" y="314.70" width="3.00" height="3.00" fill="#3050b8"/>
<rect x="99.20" y="198.80" width="3.00" height="3.00" fill="#8c1e22"/>
<rect x="99.20" y="201.10" width="3.00" height="3.00" fill="#2a1414"/>
<rect x="99.20" y="239.70" width="3.00" height="3.00" fill="#c42a2e"/>
<rect x="99.20" y="257.40" width="3.00" height="3.00" fill="#d43034"/>
<rect x="99.20" y="260.80" width="3.00" height="3.00" fill="#d83a36"/>
<rect x="99.20" y="261.70" width="3.00" height="3.00" fill="#e2832e"/>
<rect x="99.20" y="278.30" width="3.00" height="3.00" fill="#eedc3a"/>
<rect x="99.20" y="303.50" width="3.00" height="3.00" fill="#a8c83a"/>
<rect x="99.20" y="305.00" width="3.00" height="3.00" fill="#62aa44"/>
<rect x="99.20" y="306.50" width="3.00" height="3.00" fill="#5cc0e8"/>
<rect x="99.20" y="313.00" width="3.00" height="3.00" fill="#3050b8"/>
<rect x="121.60" y="200.00" width="3.00" height="3.00" fill="#8c1e22"/>
<rect x="121.60" y="202.50" width="3.00" height="3.00" fill="#2a1414"/>
<rect x="121.60" y="205.00" width="3.00" height="3.00" fill="#8c1e22"/>
<rect x="121.60" y="212.00" width="3.00" height="3.00" fill="#e2832e"/>
<rect x="121.60" y="232.60" width="3.00" height="3.00" fill="#eedc3a"/>
<rect x="121.60" y="262.50" width="3.00" height="3.00" fill="#a8c83a"/>
<rect x="121.60" y="283.10" width="3.00" height="3.00" fill="#62aa44"/>
<rect x="121.60" y="310.30" width="3.00" height="3.00" fill="#3050b8"/>
<rect x="121.60" y="311.90" width="3.00" height="3.00" fill="#5cc0e8"/>
<rect x="144.50" y="198.30" width="3.00" height="3.00" fill="#8c1e22"/>
<rect x="144.50" y="200.50" width="3.00" height="3.00" fill="#2a1414"/>
<rect x="144.50" y="204.40" width="3.00" height="3.00" fill="#c42a2e"/>
<rect x="144.50" y="211.00" width="3.00" height="3.00" fill="#a8c83a"/>
<rect x="144.50" y="237.00" width="3.00" height="3.00" fill="#62aa44"/>
<rect x="144.50" y="261.70" width="3.00" height="3.00" fill="#5cc0e8"/>
<rect x="144.50" y="302.10" width="3.00" height="3.00" fill="#6a4aa8"/>
<rect x="144.50" y="304.50" width="3.00" height="3.00" fill="#4a1c6c"/>
<rect x="167.40" y="191.50" width="3.00" height="3.00" fill="#8c1e22"/>
<rect x="167.40" y="197.30" width="3.00" height="3.00" fill="#e2832e"/>
<rect x="167.40" y="201.10" width="3.00" height="3.00" fill="#2a1414"/>
<rect x="167.40" y="206.50" width="3.00" height="3.00" fill="#c42a2e"/>
<rect x="167.40" y="232.20" width="3.00" height="3.00" fill="#62aa44"/>
<rect x="167.40" y="242.10" width="3.00" height="3.00" fill="#5cc0e8"/>
<rect x="167.40" y="284.40" width="3.00" height="3.00" fill="#3050b8"/>
<rect x="167.40" y="304.60" width="3.00" height="3.00" fill="#6a4aa8"/>
<rect x="167.40" y="308.80" width="3.00" height="3.00" fill="#4a1c6c"/>
<rect x="176.80" y="192.90" width="31.60" height="107.60" fill="#fff" stroke="#9a9a9a" stroke-width="0.8" />
<line x1="208.90" y1="195.50" x2="208.90" y2="301.60" stroke="#000" stroke-width="2.0" />
<line x1="179.50" y1="301.30" x2="209.90" y2="301.30" stroke="#000" stroke-width="1.6" />
<rect x="183.20" y="196.70" width="3.20" height="3.20" fill="#4a1c6c"/>
<text x="194.10" y="200.90" font-size="7.8" fill="#1a1a1a" font-weight="bold" text-anchor="start" textLength="7.60" lengthAdjust="spacingAndGlyphs"  stroke="#1a1a1a" stroke-width="0.4">3V</text>
<rect x="183.20" y="204.83" width="3.20" height="3.20" fill="#6a4aa8"/>
<text x="194.10" y="209.03" font-size="7.8" fill="#1a1a1a" font-weight="bold" text-anchor="start" textLength="13.20" lengthAdjust="spacingAndGlyphs"  stroke="#1a1a1a" stroke-width="0.4">3.5V</text>
<rect x="183.20" y="212.96" width="3.20" height="3.20" fill="#3050b8"/>
<text x="194.10" y="217.16" font-size="7.8" fill="#1a1a1a" font-weight="bold" text-anchor="start" textLength="7.60" lengthAdjust="spacingAndGlyphs"  stroke="#1a1a1a" stroke-width="0.4">4V</text>
<rect x="183.20" y="221.09" width="3.20" height="3.20" fill="#5cc0e8"/>
<text x="194.10" y="225.29" font-size="7.8" fill="#1a1a1a" font-weight="bold" text-anchor="start" textLength="13.20" lengthAdjust="spacingAndGlyphs"  stroke="#1a1a1a" stroke-width="0.4">4.5V</text>
<rect x="183.20" y="229.22" width="3.20" height="3.20" fill="#62aa44"/>
<text x="194.10" y="233.42" font-size="7.8" fill="#1a1a1a" font-weight="bold" text-anchor="start" textLength="7.60" lengthAdjust="spacingAndGlyphs"  stroke="#1a1a1a" stroke-width="0.4">5V</text>
<rect x="183.20" y="237.35" width="3.20" height="3.20" fill="#a8c83a"/>
<text x="194.10" y="241.55" font-size="7.8" fill="#1a1a1a" font-weight="bold" text-anchor="start" textLength="13.20" lengthAdjust="spacingAndGlyphs"  stroke="#1a1a1a" stroke-width="0.4">5.5V</text>
<rect x="183.20" y="245.48" width="3.20" height="3.20" fill="#eedc3a"/>
<text x="194.10" y="249.68" font-size="7.8" fill="#1a1a1a" font-weight="bold" text-anchor="start" textLength="7.60" lengthAdjust="spacingAndGlyphs"  stroke="#1a1a1a" stroke-width="0.4">6V</text>
<rect x="183.20" y="253.61" width="3.20" height="3.20" fill="#e2832e"/>
<text x="194.10" y="257.81" font-size="7.8" fill="#1a1a1a" font-weight="bold" text-anchor="start" textLength="13.20" lengthAdjust="spacingAndGlyphs"  stroke="#1a1a1a" stroke-width="0.4">6.5V</text>
<rect x="183.20" y="261.74" width="3.20" height="3.20" fill="#d83a36"/>
<text x="194.10" y="265.94" font-size="7.8" fill="#1a1a1a" font-weight="bold" text-anchor="start" textLength="7.60" lengthAdjust="spacingAndGlyphs"  stroke="#1a1a1a" stroke-width="0.4">7V</text>
<rect x="183.20" y="269.87" width="3.20" height="3.20" fill="#d43034"/>
<text x="194.10" y="274.07" font-size="7.8" fill="#1a1a1a" font-weight="bold" text-anchor="start" textLength="13.20" lengthAdjust="spacingAndGlyphs"  stroke="#1a1a1a" stroke-width="0.4">7.5V</text>
<rect x="183.20" y="278.00" width="3.20" height="3.20" fill="#c42a2e"/>
<text x="194.10" y="282.20" font-size="7.8" fill="#1a1a1a" font-weight="bold" text-anchor="start" textLength="7.60" lengthAdjust="spacingAndGlyphs"  stroke="#1a1a1a" stroke-width="0.4">8V</text>
<rect x="183.20" y="286.13" width="3.20" height="3.20" fill="#8c1e22"/>
<text x="194.10" y="290.33" font-size="7.8" fill="#1a1a1a" font-weight="bold" text-anchor="start" textLength="13.20" lengthAdjust="spacingAndGlyphs"  stroke="#1a1a1a" stroke-width="0.4">8.5V</text>
<rect x="183.20" y="294.26" width="3.20" height="3.20" fill="#2a1414"/>
<text x="194.10" y="298.46" font-size="7.8" fill="#1a1a1a" font-weight="bold" text-anchor="start" textLength="7.60" lengthAdjust="spacingAndGlyphs"  stroke="#1a1a1a" stroke-width="0.4">9V</text>
<text x="258.40" y="172.30" font-size="14.5" fill="#1a1a1a" font-weight="bold" text-anchor="start" textLength="8.30" lengthAdjust="spacingAndGlyphs"  stroke="#1a1a1a" stroke-width="0.5">e</text>
<line x1="277.90" y1="316.73" x2="281.20" y2="316.73" stroke="#222" stroke-width="0.9" />
<line x1="453.90" y1="316.73" x2="451.70" y2="316.73" stroke="#222" stroke-width="0.9" />
<text x="276.80" y="319.73" font-size="8.6" fill="#1a1a1a" font-weight="bold" text-anchor="end"  stroke="#1a1a1a" stroke-width="0.32">-12</text>
<line x1="279.50" y1="311.04" x2="281.20" y2="311.04" stroke="#333" stroke-width="0.85" />
<line x1="453.90" y1="311.04" x2="452.70" y2="311.04" stroke="#333" stroke-width="0.85" />
<line x1="277.90" y1="305.35" x2="281.20" y2="305.35" stroke="#222" stroke-width="0.9" />
<line x1="453.90" y1="305.35" x2="451.70" y2="305.35" stroke="#222" stroke-width="0.9" />
<text x="276.80" y="308.35" font-size="8.6" fill="#1a1a1a" font-weight="bold" text-anchor="end"  stroke="#1a1a1a" stroke-width="0.32">-10</text>
<line x1="279.50" y1="299.66" x2="281.20" y2="299.66" stroke="#333" stroke-width="0.85" />
<line x1="453.90" y1="299.66" x2="452.70" y2="299.66" stroke="#333" stroke-width="0.85" />
<line x1="277.90" y1="293.97" x2="281.20" y2="293.97" stroke="#222" stroke-width="0.9" />
<line x1="453.90" y1="293.97" x2="451.70" y2="293.97" stroke="#222" stroke-width="0.9" />
<text x="276.80" y="296.97" font-size="8.6" fill="#1a1a1a" font-weight="bold" text-anchor="end"  stroke="#1a1a1a" stroke-width="0.32">-8</text>
<line x1="279.50" y1="288.28" x2="281.20" y2="288.28" stroke="#333" stroke-width="0.85" />
<line x1="453.90" y1="288.28" x2="452.70" y2="288.28" stroke="#333" stroke-width="0.85" />
<line x1="277.90" y1="282.59" x2="281.20" y2="282.59" stroke="#222" stroke-width="0.9" />
<line x1="453.90" y1="282.59" x2="451.70" y2="282.59" stroke="#222" stroke-width="0.9" />
<text x="276.80" y="285.59" font-size="8.6" fill="#1a1a1a" font-weight="bold" text-anchor="end"  stroke="#1a1a1a" stroke-width="0.32">-6</text>
<line x1="279.50" y1="276.90" x2="281.20" y2="276.90" stroke="#333" stroke-width="0.85" />
<line x1="453.90" y1="276.90" x2="452.70" y2="276.90" stroke="#333" stroke-width="0.85" />
<line x1="277.90" y1="271.21" x2="281.20" y2="271.21" stroke="#222" stroke-width="0.9" />
<line x1="453.90" y1="271.21" x2="451.70" y2="271.21" stroke="#222" stroke-width="0.9" />
<text x="276.80" y="274.21" font-size="8.6" fill="#1a1a1a" font-weight="bold" text-anchor="end"  stroke="#1a1a1a" stroke-width="0.32">-4</text>
<line x1="279.50" y1="265.52" x2="281.20" y2="265.52" stroke="#333" stroke-width="0.85" />
<line x1="453.90" y1="265.52" x2="452.70" y2="265.52" stroke="#333" stroke-width="0.85" />
<line x1="277.90" y1="259.83" x2="281.20" y2="259.83" stroke="#222" stroke-width="0.9" />
<line x1="453.90" y1="259.83" x2="451.70" y2="259.83" stroke="#222" stroke-width="0.9" />
<text x="276.80" y="262.83" font-size="8.6" fill="#1a1a1a" font-weight="bold" text-anchor="end"  stroke="#1a1a1a" stroke-width="0.32">-2</text>
<line x1="279.50" y1="254.14" x2="281.20" y2="254.14" stroke="#333" stroke-width="0.85" />
<line x1="453.90" y1="254.14" x2="452.70" y2="254.14" stroke="#333" stroke-width="0.85" />
<line x1="277.90" y1="248.45" x2="281.20" y2="248.45" stroke="#222" stroke-width="0.9" />
<line x1="453.90" y1="248.45" x2="451.70" y2="248.45" stroke="#222" stroke-width="0.9" />
<text x="276.80" y="251.45" font-size="8.6" fill="#1a1a1a" font-weight="bold" text-anchor="end"  stroke="#1a1a1a" stroke-width="0.32">0</text>
<line x1="279.50" y1="242.76" x2="281.20" y2="242.76" stroke="#333" stroke-width="0.85" />
<line x1="453.90" y1="242.76" x2="452.70" y2="242.76" stroke="#333" stroke-width="0.85" />
<line x1="277.90" y1="237.07" x2="281.20" y2="237.07" stroke="#222" stroke-width="0.9" />
<line x1="453.90" y1="237.07" x2="451.70" y2="237.07" stroke="#222" stroke-width="0.9" />
<text x="276.80" y="240.07" font-size="8.6" fill="#1a1a1a" font-weight="bold" text-anchor="end"  stroke="#1a1a1a" stroke-width="0.32">2</text>
<line x1="279.50" y1="231.38" x2="281.20" y2="231.38" stroke="#333" stroke-width="0.85" />
<line x1="453.90" y1="231.38" x2="452.70" y2="231.38" stroke="#333" stroke-width="0.85" />
<line x1="277.90" y1="225.69" x2="281.20" y2="225.69" stroke="#222" stroke-width="0.9" />
<line x1="453.90" y1="225.69" x2="451.70" y2="225.69" stroke="#222" stroke-width="0.9" />
<text x="276.80" y="228.69" font-size="8.6" fill="#1a1a1a" font-weight="bold" text-anchor="end"  stroke="#1a1a1a" stroke-width="0.32">4</text>
<line x1="279.50" y1="220.00" x2="281.20" y2="220.00" stroke="#333" stroke-width="0.85" />
<line x1="453.90" y1="220.00" x2="452.70" y2="220.00" stroke="#333" stroke-width="0.85" />
<line x1="277.90" y1="214.31" x2="281.20" y2="214.31" stroke="#222" stroke-width="0.9" />
<line x1="453.90" y1="214.31" x2="451.70" y2="214.31" stroke="#222" stroke-width="0.9" />
<text x="276.80" y="217.31" font-size="8.6" fill="#1a1a1a" font-weight="bold" text-anchor="end"  stroke="#1a1a1a" stroke-width="0.32">6</text>
<line x1="279.50" y1="208.62" x2="281.20" y2="208.62" stroke="#333" stroke-width="0.85" />
<line x1="453.90" y1="208.62" x2="452.70" y2="208.62" stroke="#333" stroke-width="0.85" />
<line x1="277.90" y1="202.93" x2="281.20" y2="202.93" stroke="#222" stroke-width="0.9" />
<line x1="453.90" y1="202.93" x2="451.70" y2="202.93" stroke="#222" stroke-width="0.9" />
<text x="276.80" y="205.93" font-size="8.6" fill="#1a1a1a" font-weight="bold" text-anchor="end"  stroke="#1a1a1a" stroke-width="0.32">8</text>
<line x1="279.50" y1="197.24" x2="281.20" y2="197.24" stroke="#333" stroke-width="0.85" />
<line x1="453.90" y1="197.24" x2="452.70" y2="197.24" stroke="#333" stroke-width="0.85" />
<line x1="277.90" y1="191.55" x2="281.20" y2="191.55" stroke="#222" stroke-width="0.9" />
<line x1="453.90" y1="191.55" x2="451.70" y2="191.55" stroke="#222" stroke-width="0.9" />
<text x="276.80" y="194.55" font-size="8.6" fill="#1a1a1a" font-weight="bold" text-anchor="end"  stroke="#1a1a1a" stroke-width="0.32">10</text>
<line x1="279.50" y1="185.86" x2="281.20" y2="185.86" stroke="#333" stroke-width="0.85" />
<line x1="453.90" y1="185.86" x2="452.70" y2="185.86" stroke="#333" stroke-width="0.85" />
<line x1="277.90" y1="180.17" x2="281.20" y2="180.17" stroke="#222" stroke-width="0.9" />
<line x1="453.90" y1="180.17" x2="451.70" y2="180.17" stroke="#222" stroke-width="0.9" />
<text x="276.80" y="183.17" font-size="8.6" fill="#1a1a1a" font-weight="bold" text-anchor="end"  stroke="#1a1a1a" stroke-width="0.32">12</text>
<line x1="281.05" y1="316.80" x2="281.05" y2="319.80" stroke="#222" stroke-width="0.9" />
<line x1="281.05" y1="180.00" x2="281.05" y2="182.00" stroke="#222" stroke-width="0.9" />
<text x="281.15" y="329.00" font-size="8.9" fill="#1a1a1a" font-weight="bold" text-anchor="middle" textLength="16.50" lengthAdjust="spacingAndGlyphs"  stroke="#1a1a1a" stroke-width="0.32">-300</text>
<line x1="288.24" y1="316.80" x2="288.24" y2="318.40" stroke="#333" stroke-width="0.85" />
<line x1="288.24" y1="180.00" x2="288.24" y2="181.50" stroke="#333" stroke-width="0.85" />
<line x1="295.43" y1="316.80" x2="295.43" y2="318.40" stroke="#333" stroke-width="0.85" />
<line x1="295.43" y1="180.00" x2="295.43" y2="181.50" stroke="#333" stroke-width="0.85" />
<line x1="302.61" y1="316.80" x2="302.61" y2="318.40" stroke="#333" stroke-width="0.85" />
<line x1="302.61" y1="180.00" x2="302.61" y2="181.50" stroke="#333" stroke-width="0.85" />
<line x1="309.80" y1="316.80" x2="309.80" y2="319.80" stroke="#222" stroke-width="0.9" />
<line x1="309.80" y1="180.00" x2="309.80" y2="182.00" stroke="#222" stroke-width="0.9" />
<text x="309.90" y="329.00" font-size="8.9" fill="#1a1a1a" font-weight="bold" text-anchor="middle" textLength="16.50" lengthAdjust="spacingAndGlyphs"  stroke="#1a1a1a" stroke-width="0.32">-200</text>
<line x1="316.99" y1="316.80" x2="316.99" y2="318.40" stroke="#333" stroke-width="0.85" />
<line x1="316.99" y1="180.00" x2="316.99" y2="181.50" stroke="#333" stroke-width="0.85" />
<line x1="324.18" y1="316.80" x2="324.18" y2="318.40" stroke="#333" stroke-width="0.85" />
<line x1="324.18" y1="180.00" x2="324.18" y2="181.50" stroke="#333" stroke-width="0.85" />
<line x1="331.36" y1="316.80" x2="331.36" y2="318.40" stroke="#333" stroke-width="0.85" />
<line x1="331.36" y1="180.00" x2="331.36" y2="181.50" stroke="#333" stroke-width="0.85" />
<line x1="338.55" y1="316.80" x2="338.55" y2="319.80" stroke="#222" stroke-width="0.9" />
<line x1="338.55" y1="180.00" x2="338.55" y2="182.00" stroke="#222" stroke-width="0.9" />
<text x="338.65" y="329.00" font-size="8.9" fill="#1a1a1a" font-weight="bold" text-anchor="middle" textLength="16.50" lengthAdjust="spacingAndGlyphs"  stroke="#1a1a1a" stroke-width="0.32">-100</text>
<line x1="345.74" y1="316.80" x2="345.74" y2="318.40" stroke="#333" stroke-width="0.85" />
<line x1="345.74" y1="180.00" x2="345.74" y2="181.50" stroke="#333" stroke-width="0.85" />
<line x1="352.93" y1="316.80" x2="352.93" y2="318.40" stroke="#333" stroke-width="0.85" />
<line x1="352.93" y1="180.00" x2="352.93" y2="181.50" stroke="#333" stroke-width="0.85" />
<line x1="360.11" y1="316.80" x2="360.11" y2="318.40" stroke="#333" stroke-width="0.85" />
<line x1="360.11" y1="180.00" x2="360.11" y2="181.50" stroke="#333" stroke-width="0.85" />
<line x1="367.30" y1="316.80" x2="367.30" y2="319.80" stroke="#222" stroke-width="0.9" />
<line x1="367.30" y1="180.00" x2="367.30" y2="182.00" stroke="#222" stroke-width="0.9" />
<text x="367.40" y="329.00" font-size="8.9" fill="#1a1a1a" font-weight="bold" text-anchor="middle" textLength="5.00" lengthAdjust="spacingAndGlyphs"  stroke="#1a1a1a" stroke-width="0.32">0</text>
<line x1="374.49" y1="316.80" x2="374.49" y2="318.40" stroke="#333" stroke-width="0.85" />
<line x1="374.49" y1="180.00" x2="374.49" y2="181.50" stroke="#333" stroke-width="0.85" />
<line x1="381.68" y1="316.80" x2="381.68" y2="318.40" stroke="#333" stroke-width="0.85" />
<line x1="381.68" y1="180.00" x2="381.68" y2="181.50" stroke="#333" stroke-width="0.85" />
<line x1="388.86" y1="316.80" x2="388.86" y2="318.40" stroke="#333" stroke-width="0.85" />
<line x1="388.86" y1="180.00" x2="388.86" y2="181.50" stroke="#333" stroke-width="0.85" />
<line x1="396.05" y1="316.80" x2="396.05" y2="319.80" stroke="#222" stroke-width="0.9" />
<line x1="396.05" y1="180.00" x2="396.05" y2="182.00" stroke="#222" stroke-width="0.9" />
<text x="396.15" y="329.00" font-size="8.9" fill="#1a1a1a" font-weight="bold" text-anchor="middle" textLength="13.50" lengthAdjust="spacingAndGlyphs"  stroke="#1a1a1a" stroke-width="0.32">100</text>
<line x1="403.24" y1="316.80" x2="403.24" y2="318.40" stroke="#333" stroke-width="0.85" />
<line x1="403.24" y1="180.00" x2="403.24" y2="181.50" stroke="#333" stroke-width="0.85" />
<line x1="410.43" y1="316.80" x2="410.43" y2="318.40" stroke="#333" stroke-width="0.85" />
<line x1="410.43" y1="180.00" x2="410.43" y2="181.50" stroke="#333" stroke-width="0.85" />
<line x1="417.61" y1="316.80" x2="417.61" y2="318.40" stroke="#333" stroke-width="0.85" />
<line x1="417.61" y1="180.00" x2="417.61" y2="181.50" stroke="#333" stroke-width="0.85" />
<line x1="424.80" y1="316.80" x2="424.80" y2="319.80" stroke="#222" stroke-width="0.9" />
<line x1="424.80" y1="180.00" x2="424.80" y2="182.00" stroke="#222" stroke-width="0.9" />
<text x="424.90" y="329.00" font-size="8.9" fill="#1a1a1a" font-weight="bold" text-anchor="middle" textLength="13.50" lengthAdjust="spacingAndGlyphs"  stroke="#1a1a1a" stroke-width="0.32">200</text>
<line x1="431.99" y1="316.80" x2="431.99" y2="318.40" stroke="#333" stroke-width="0.85" />
<line x1="431.99" y1="180.00" x2="431.99" y2="181.50" stroke="#333" stroke-width="0.85" />
<line x1="439.18" y1="316.80" x2="439.18" y2="318.40" stroke="#333" stroke-width="0.85" />
<line x1="439.18" y1="180.00" x2="439.18" y2="181.50" stroke="#333" stroke-width="0.85" />
<line x1="446.36" y1="316.80" x2="446.36" y2="318.40" stroke="#333" stroke-width="0.85" />
<line x1="446.36" y1="180.00" x2="446.36" y2="181.50" stroke="#333" stroke-width="0.85" />
<line x1="453.55" y1="316.80" x2="453.55" y2="319.80" stroke="#222" stroke-width="0.9" />
<line x1="453.55" y1="180.00" x2="453.55" y2="182.00" stroke="#222" stroke-width="0.9" />
<text x="453.65" y="329.00" font-size="8.9" fill="#1a1a1a" font-weight="bold" text-anchor="middle" textLength="13.50" lengthAdjust="spacingAndGlyphs"  stroke="#1a1a1a" stroke-width="0.32">300</text>
<rect x="281.20" y="180.00" width="172.70" height="136.80" fill="none" stroke="#111" stroke-width="1.1" />
<line x1="281.20" y1="248.45" x2="453.90" y2="248.45" stroke="#111" stroke-width="1.0" />
<line x1="367.30" y1="180.00" x2="367.30" y2="316.80" stroke="#111" stroke-width="1.0" />
<text transform="translate(264.10,263.60) rotate(-90)" x="0" y="0" font-size="8.8" fill="#1a1a1a" font-weight="bold" text-anchor="start" textLength="30.30" lengthAdjust="spacingAndGlyphs"  stroke="#1a1a1a" stroke-width="0.05">&#916;R (G&#937;)</text>
<text x="354.90" y="337.80" font-size="7.8" fill="#1a1a1a" font-weight="bold" text-anchor="start" textLength="25.40" lengthAdjust="spacingAndGlyphs"  stroke="#1a1a1a" stroke-width="0.32">&#916;t (&#956;s)</text>
<text x="292.20" y="214.00" font-size="9.9" fill="#4452aa" font-weight="bold" text-anchor="start" textLength="43.90" lengthAdjust="spacingAndGlyphs"  stroke="#4452aa" stroke-width="0.32">depression</text>
<text x="403.50" y="282.90" font-size="9.9" fill="#d0282e" font-weight="bold" text-anchor="start" textLength="47.30" lengthAdjust="spacingAndGlyphs"  stroke="#d0282e" stroke-width="0.32">potentiation</text>
<path d="M309.40,248.00 C311.73,247.35 319.10,246.90 323.40,244.10 C327.70,241.30 332.27,236.85 335.20,231.20 C338.13,225.55 339.45,216.45 341.00,210.20 C342.55,203.95 343.52,198.78 344.50,193.70 C345.48,188.62 346.50,182.03 346.90,179.70" fill="none" stroke="#3240a0" stroke-width="1.1" stroke-linecap="round" />
<path d="M309.40,248.00 C313.70,247.35 328.95,246.30 335.20,244.10 C341.45,241.90 343.40,239.28 346.90,234.80 C350.40,230.32 353.67,222.48 356.20,217.20 C358.73,211.92 360.60,207.55 362.10,203.10 C363.60,198.65 364.68,192.60 365.20,190.50" fill="none" stroke="#3aa0e0" stroke-width="1.1" stroke-linecap="round" />
<path d="M369.40,297.60 C370.33,295.25 373.33,287.87 375.00,283.50 C376.67,279.13 377.57,275.07 379.40,271.40 C381.23,267.73 383.80,264.25 386.00,261.50 C388.20,258.75 390.03,256.73 392.60,254.90 C395.17,253.07 397.73,251.57 401.40,250.50 C405.07,249.43 410.67,248.88 414.60,248.50 C418.53,248.12 423.27,248.25 425.00,248.20" fill="none" stroke="#e0902a" stroke-width="1.1" stroke-linecap="round" />
<path d="M387.60,311.00 C387.88,308.82 388.65,302.67 389.30,297.90 C389.95,293.13 390.65,287.55 391.50,282.40 C392.35,277.25 393.30,271.22 394.40,267.00 C395.50,262.78 396.57,259.80 398.10,257.10 C399.63,254.40 401.22,252.22 403.60,250.80 C405.98,249.38 408.83,249.05 412.40,248.60 C415.97,248.15 422.07,248.17 425.00,248.10 C427.93,248.03 429.17,248.18 430.00,248.20" fill="none" stroke="#d8303a" stroke-width="1.1" stroke-linecap="round" />
<rect x="308.40" y="246.77" width="2.80" height="2.80" fill="#111"/>
<rect x="310.70" y="246.48" width="2.80" height="2.80" fill="#111"/>
<rect x="313.00" y="246.20" width="2.80" height="2.80" fill="#111"/>
<rect x="315.30" y="245.91" width="2.80" height="2.80" fill="#111"/>
<rect x="317.60" y="244.77" width="2.80" height="2.80" fill="#111"/>
<rect x="319.90" y="243.92" width="2.80" height="2.80" fill="#111"/>
<rect x="322.20" y="243.07" width="2.80" height="2.80" fill="#111"/>
<rect x="323.93" y="241.93" width="2.80" height="2.80" fill="#111"/>
<rect x="326.23" y="240.22" width="2.80" height="2.80" fill="#111"/>
<rect x="330.54" y="235.10" width="2.80" height="2.80" fill="#111"/>
<rect x="335.14" y="224.86" width="2.80" height="2.80" fill="#111"/>
<rect x="337.15" y="204.37" width="2.80" height="2.80" fill="#111"/>
<rect x="340.60" y="209.50" width="2.80" height="2.80" fill="#111"/>
<rect x="342.61" y="189.58" width="2.80" height="2.80" fill="#111"/>
<rect x="346.64" y="183.89" width="2.80" height="2.80" fill="#111"/>
<rect x="348.82" y="183.04" width="2.80" height="2.80" fill="#111"/>
<rect x="351.01" y="184.11" width="2.80" height="2.80" fill="#111"/>
<rect x="353.19" y="184.68" width="2.80" height="2.80" fill="#111"/>
<rect x="355.38" y="183.47" width="2.80" height="2.80" fill="#111"/>
<rect x="357.56" y="183.21" width="2.80" height="2.80" fill="#111"/>
<rect x="359.75" y="184.49" width="2.80" height="2.80" fill="#111"/>
<rect x="361.93" y="184.42" width="2.80" height="2.80" fill="#111"/>
<rect x="364.12" y="183.16" width="2.80" height="2.80" fill="#111"/>
<polygon points="308.00,250.00 311.60,250.00 309.80,246.65" fill="#111" stroke="none" stroke-width="1" />
<polygon points="311.45,249.43 315.05,249.43 313.25,246.08" fill="#111" stroke="none" stroke-width="1" />
<polygon points="314.90,248.86 318.50,248.86 316.70,245.51" fill="#111" stroke="none" stroke-width="1" />
<polygon points="319.50,248.29 323.10,248.29 321.30,244.94" fill="#111" stroke="none" stroke-width="1" />
<polygon points="322.38,247.15 325.98,247.15 324.18,243.80" fill="#111" stroke="none" stroke-width="1" />
<polygon points="325.82,246.01 329.43,246.01 327.62,242.67" fill="#111" stroke="none" stroke-width="1" />
<polygon points="329.28,244.88 332.88,244.88 331.08,241.53" fill="#111" stroke="none" stroke-width="1" />
<polygon points="332.73,243.74 336.33,243.74 334.53,240.39" fill="#111" stroke="none" stroke-width="1" />
<polygon points="335.60,242.60 339.20,242.60 337.40,239.25" fill="#111" stroke="none" stroke-width="1" />
<polygon points="338.19,242.03 341.79,242.03 339.99,238.68" fill="#111" stroke="none" stroke-width="1" />
<polygon points="340.20,234.07 343.80,234.07 342.00,230.72" fill="#111" stroke="none" stroke-width="1" />
<polygon points="343.07,226.67 346.68,226.67 344.88,223.32" fill="#111" stroke="none" stroke-width="1" />
<polygon points="345.38,227.81 348.98,227.81 347.18,224.46" fill="#111" stroke="none" stroke-width="1" />
<polygon points="348.25,226.67 351.85,226.67 350.05,223.32" fill="#111" stroke="none" stroke-width="1" />
<polygon points="354.00,224.39 357.60,224.39 355.80,221.04" fill="#111" stroke="none" stroke-width="1" />
<polygon points="356.88,213.58 360.48,213.58 358.68,210.23" fill="#111" stroke="none" stroke-width="1" />
<polygon points="359.75,201.63 363.35,201.63 361.55,198.28" fill="#111" stroke="none" stroke-width="1" />
<polygon points="362.62,194.81 366.23,194.81 364.43,191.46" fill="#111" stroke="none" stroke-width="1" />
<rect x="368.20" y="311.35" width="2.80" height="2.80" fill="#111"/>
<rect x="370.79" y="310.78" width="2.80" height="2.80" fill="#111"/>
<rect x="373.38" y="310.21" width="2.80" height="2.80" fill="#111"/>
<rect x="375.96" y="310.78" width="2.80" height="2.80" fill="#111"/>
<rect x="378.55" y="310.21" width="2.80" height="2.80" fill="#111"/>
<rect x="381.14" y="310.78" width="2.80" height="2.80" fill="#111"/>
<rect x="383.73" y="309.64" width="2.80" height="2.80" fill="#111"/>
<rect x="386.20" y="304.52" width="2.80" height="2.80" fill="#111"/>
<rect x="389.48" y="292.57" width="2.80" height="2.80" fill="#111"/>
<rect x="392.21" y="279.48" width="2.80" height="2.80" fill="#111"/>
<rect x="394.94" y="263.84" width="2.80" height="2.80" fill="#111"/>
<rect x="399.83" y="253.88" width="2.80" height="2.80" fill="#111"/>
<rect x="404.71" y="249.89" width="2.80" height="2.80" fill="#111"/>
<rect x="409.03" y="248.19" width="2.80" height="2.80" fill="#111"/>
<rect x="413.34" y="247.05" width="2.80" height="2.80" fill="#111"/>
<rect x="417.36" y="249.89" width="2.80" height="2.80" fill="#111"/>
<rect x="420.53" y="247.62" width="2.80" height="2.80" fill="#111"/>
<rect x="423.98" y="248.47" width="2.80" height="2.80" fill="#111"/>
<polygon points="368.66,298.36 372.26,298.36 370.46,295.01" fill="#111" stroke="none" stroke-width="1" />
<polygon points="372.00,292.10 375.60,292.10 373.80,288.76" fill="#111" stroke="none" stroke-width="1" />
<polygon points="374.58,285.28 378.19,285.28 376.38,281.93" fill="#111" stroke="none" stroke-width="1" />
<polygon points="377.49,272.76 381.09,272.76 379.29,269.41" fill="#111" stroke="none" stroke-width="1" />
<polygon points="379.59,272.19 383.19,272.19 381.39,268.84" fill="#111" stroke="none" stroke-width="1" />
<polygon points="382.18,268.77 385.78,268.77 383.98,265.43" fill="#111" stroke="none" stroke-width="1" />
<polygon points="385.05,265.93 388.65,265.93 386.85,262.58" fill="#111" stroke="none" stroke-width="1" />
<polygon points="387.81,257.96 391.41,257.96 389.61,254.62" fill="#111" stroke="none" stroke-width="1" />
<polygon points="389.65,257.39 393.25,257.39 391.45,254.05" fill="#111" stroke="none" stroke-width="1" />
<polygon points="393.96,253.41 397.56,253.41 395.76,250.06" fill="#111" stroke="none" stroke-width="1" />
<polygon points="397.70,251.70 401.30,251.70 399.50,248.36" fill="#111" stroke="none" stroke-width="1" />
<polygon points="401.44,250.57 405.04,250.57 403.24,247.22" fill="#111" stroke="none" stroke-width="1" />
<polygon points="405.75,249.43 409.35,249.43 407.55,246.08" fill="#111" stroke="none" stroke-width="1" />
<polygon points="410.06,249.43 413.66,249.43 411.86,246.08" fill="#111" stroke="none" stroke-width="1" />
<polygon points="414.38,250.00 417.98,250.00 416.18,246.65" fill="#111" stroke="none" stroke-width="1" />
<text x="483.00" y="172.60" font-size="13.9" fill="#1a1a1a" font-weight="bold" text-anchor="start"  stroke="#1a1a1a" stroke-width="0.5">f</text>
<line x1="508.90" y1="315.00" x2="512.20" y2="315.00" stroke="#222" stroke-width="0.9" />
<line x1="680.40" y1="315.00" x2="678.20" y2="315.00" stroke="#222" stroke-width="0.9" />
<text x="507.50" y="317.95" font-size="8.5" fill="#1a1a1a" font-weight="bold" text-anchor="end" textLength="10.00" lengthAdjust="spacingAndGlyphs"  stroke="#1a1a1a" stroke-width="0.32">0.0</text>
<line x1="510.60" y1="308.26" x2="512.20" y2="308.26" stroke="#333" stroke-width="0.85" />
<line x1="680.40" y1="308.26" x2="679.20" y2="308.26" stroke="#333" stroke-width="0.85" />
<line x1="510.60" y1="301.53" x2="512.20" y2="301.53" stroke="#333" stroke-width="0.85" />
<line x1="680.40" y1="301.53" x2="679.20" y2="301.53" stroke="#333" stroke-width="0.85" />
<line x1="510.60" y1="294.80" x2="512.20" y2="294.80" stroke="#333" stroke-width="0.85" />
<line x1="680.40" y1="294.80" x2="679.20" y2="294.80" stroke="#333" stroke-width="0.85" />
<line x1="510.60" y1="288.06" x2="512.20" y2="288.06" stroke="#333" stroke-width="0.85" />
<line x1="680.40" y1="288.06" x2="679.20" y2="288.06" stroke="#333" stroke-width="0.85" />
<line x1="508.90" y1="281.32" x2="512.20" y2="281.32" stroke="#222" stroke-width="0.9" />
<line x1="680.40" y1="281.32" x2="678.20" y2="281.32" stroke="#222" stroke-width="0.9" />
<text x="507.50" y="284.27" font-size="8.5" fill="#1a1a1a" font-weight="bold" text-anchor="end" textLength="10.00" lengthAdjust="spacingAndGlyphs"  stroke="#1a1a1a" stroke-width="0.32">0.5</text>
<line x1="510.60" y1="274.59" x2="512.20" y2="274.59" stroke="#333" stroke-width="0.85" />
<line x1="680.40" y1="274.59" x2="679.20" y2="274.59" stroke="#333" stroke-width="0.85" />
<line x1="510.60" y1="267.86" x2="512.20" y2="267.86" stroke="#333" stroke-width="0.85" />
<line x1="680.40" y1="267.86" x2="679.20" y2="267.86" stroke="#333" stroke-width="0.85" />
<line x1="510.60" y1="261.12" x2="512.20" y2="261.12" stroke="#333" stroke-width="0.85" />
<line x1="680.40" y1="261.12" x2="679.20" y2="261.12" stroke="#333" stroke-width="0.85" />
<line x1="510.60" y1="254.38" x2="512.20" y2="254.38" stroke="#333" stroke-width="0.85" />
<line x1="680.40" y1="254.38" x2="679.20" y2="254.38" stroke="#333" stroke-width="0.85" />
<line x1="508.90" y1="247.65" x2="512.20" y2="247.65" stroke="#222" stroke-width="0.9" />
<line x1="680.40" y1="247.65" x2="678.20" y2="247.65" stroke="#222" stroke-width="0.9" />
<text x="507.50" y="250.60" font-size="8.5" fill="#1a1a1a" font-weight="bold" text-anchor="end" textLength="10.00" lengthAdjust="spacingAndGlyphs"  stroke="#1a1a1a" stroke-width="0.32">1.0</text>
<line x1="510.60" y1="240.92" x2="512.20" y2="240.92" stroke="#333" stroke-width="0.85" />
<line x1="680.40" y1="240.92" x2="679.20" y2="240.92" stroke="#333" stroke-width="0.85" />
<line x1="510.60" y1="234.18" x2="512.20" y2="234.18" stroke="#333" stroke-width="0.85" />
<line x1="680.40" y1="234.18" x2="679.20" y2="234.18" stroke="#333" stroke-width="0.85" />
<line x1="510.60" y1="227.44" x2="512.20" y2="227.44" stroke="#333" stroke-width="0.85" />
<line x1="680.40" y1="227.44" x2="679.20" y2="227.44" stroke="#333" stroke-width="0.85" />
<line x1="510.60" y1="220.71" x2="512.20" y2="220.71" stroke="#333" stroke-width="0.85" />
<line x1="680.40" y1="220.71" x2="679.20" y2="220.71" stroke="#333" stroke-width="0.85" />
<line x1="508.90" y1="213.98" x2="512.20" y2="213.98" stroke="#222" stroke-width="0.9" />
<line x1="680.40" y1="213.98" x2="678.20" y2="213.98" stroke="#222" stroke-width="0.9" />
<text x="507.50" y="216.93" font-size="8.5" fill="#1a1a1a" font-weight="bold" text-anchor="end" textLength="10.00" lengthAdjust="spacingAndGlyphs"  stroke="#1a1a1a" stroke-width="0.32">1.5</text>
<line x1="510.60" y1="207.24" x2="512.20" y2="207.24" stroke="#333" stroke-width="0.85" />
<line x1="680.40" y1="207.24" x2="679.20" y2="207.24" stroke="#333" stroke-width="0.85" />
<line x1="510.60" y1="200.50" x2="512.20" y2="200.50" stroke="#333" stroke-width="0.85" />
<line x1="680.40" y1="200.50" x2="679.20" y2="200.50" stroke="#333" stroke-width="0.85" />
<line x1="510.60" y1="193.77" x2="512.20" y2="193.77" stroke="#333" stroke-width="0.85" />
<line x1="680.40" y1="193.77" x2="679.20" y2="193.77" stroke="#333" stroke-width="0.85" />
<line x1="510.60" y1="187.04" x2="512.20" y2="187.04" stroke="#333" stroke-width="0.85" />
<line x1="680.40" y1="187.04" x2="679.20" y2="187.04" stroke="#333" stroke-width="0.85" />
<line x1="508.90" y1="180.30" x2="512.20" y2="180.30" stroke="#222" stroke-width="0.9" />
<line x1="680.40" y1="180.30" x2="678.20" y2="180.30" stroke="#222" stroke-width="0.9" />
<text x="507.50" y="183.25" font-size="8.5" fill="#1a1a1a" font-weight="bold" text-anchor="end" textLength="10.00" lengthAdjust="spacingAndGlyphs"  stroke="#1a1a1a" stroke-width="0.32">2.0</text>
<line x1="512.44" y1="315.00" x2="512.44" y2="316.50" stroke="#333" stroke-width="0.85" />
<line x1="512.44" y1="180.30" x2="512.44" y2="181.60" stroke="#333" stroke-width="0.85" />
<line x1="514.00" y1="315.00" x2="514.00" y2="316.50" stroke="#333" stroke-width="0.85" />
<line x1="514.00" y1="180.30" x2="514.00" y2="181.60" stroke="#333" stroke-width="0.85" />
<line x1="515.35" y1="315.00" x2="515.35" y2="316.50" stroke="#333" stroke-width="0.85" />
<line x1="515.35" y1="180.30" x2="515.35" y2="181.60" stroke="#333" stroke-width="0.85" />
<line x1="516.54" y1="315.00" x2="516.54" y2="316.50" stroke="#333" stroke-width="0.85" />
<line x1="516.54" y1="180.30" x2="516.54" y2="181.60" stroke="#333" stroke-width="0.85" />
<line x1="517.60" y1="315.00" x2="517.60" y2="317.60" stroke="#222" stroke-width="0.9" />
<line x1="517.60" y1="180.30" x2="517.60" y2="182.50" stroke="#222" stroke-width="0.9" />
<line x1="524.60" y1="315.00" x2="524.60" y2="316.50" stroke="#333" stroke-width="0.85" />
<line x1="524.60" y1="180.30" x2="524.60" y2="181.60" stroke="#333" stroke-width="0.85" />
<line x1="528.70" y1="315.00" x2="528.70" y2="316.50" stroke="#333" stroke-width="0.85" />
<line x1="528.70" y1="180.30" x2="528.70" y2="181.60" stroke="#333" stroke-width="0.85" />
<line x1="531.60" y1="315.00" x2="531.60" y2="316.50" stroke="#333" stroke-width="0.85" />
<line x1="531.60" y1="180.30" x2="531.60" y2="181.60" stroke="#333" stroke-width="0.85" />
<line x1="533.86" y1="315.00" x2="533.86" y2="316.50" stroke="#333" stroke-width="0.85" />
<line x1="533.86" y1="180.30" x2="533.86" y2="181.60" stroke="#333" stroke-width="0.85" />
<line x1="535.70" y1="315.00" x2="535.70" y2="316.50" stroke="#333" stroke-width="0.85" />
<line x1="535.70" y1="180.30" x2="535.70" y2="181.60" stroke="#333" stroke-width="0.85" />
<line x1="537.26" y1="315.00" x2="537.26" y2="316.50" stroke="#333" stroke-width="0.85" />
<line x1="537.26" y1="180.30" x2="537.26" y2="181.60" stroke="#333" stroke-width="0.85" />
<line x1="538.61" y1="315.00" x2="538.61" y2="316.50" stroke="#333" stroke-width="0.85" />
<line x1="538.61" y1="180.30" x2="538.61" y2="181.60" stroke="#333" stroke-width="0.85" />
<line x1="539.80" y1="315.00" x2="539.80" y2="316.50" stroke="#333" stroke-width="0.85" />
<line x1="539.80" y1="180.30" x2="539.80" y2="181.60" stroke="#333" stroke-width="0.85" />
<line x1="540.86" y1="315.00" x2="540.86" y2="317.60" stroke="#222" stroke-width="0.9" />
<line x1="540.86" y1="180.30" x2="540.86" y2="182.50" stroke="#222" stroke-width="0.9" />
<line x1="547.86" y1="315.00" x2="547.86" y2="316.50" stroke="#333" stroke-width="0.85" />
<line x1="547.86" y1="180.30" x2="547.86" y2="181.60" stroke="#333" stroke-width="0.85" />
<line x1="551.96" y1="315.00" x2="551.96" y2="316.50" stroke="#333" stroke-width="0.85" />
<line x1="551.96" y1="180.30" x2="551.96" y2="181.60" stroke="#333" stroke-width="0.85" />
<line x1="554.86" y1="315.00" x2="554.86" y2="316.50" stroke="#333" stroke-width="0.85" />
<line x1="554.86" y1="180.30" x2="554.86" y2="181.60" stroke="#333" stroke-width="0.85" />
<line x1="557.12" y1="315.00" x2="557.12" y2="316.50" stroke="#333" stroke-width="0.85" />
<line x1="557.12" y1="180.30" x2="557.12" y2="181.60" stroke="#333" stroke-width="0.85" />
<line x1="558.96" y1="315.00" x2="558.96" y2="316.50" stroke="#333" stroke-width="0.85" />
<line x1="558.96" y1="180.30" x2="558.96" y2="181.60" stroke="#333" stroke-width="0.85" />
<line x1="560.52" y1="315.00" x2="560.52" y2="316.50" stroke="#333" stroke-width="0.85" />
<line x1="560.52" y1="180.30" x2="560.52" y2="181.60" stroke="#333" stroke-width="0.85" />
<line x1="561.87" y1="315.00" x2="561.87" y2="316.50" stroke="#333" stroke-width="0.85" />
<line x1="561.87" y1="180.30" x2="561.87" y2="181.60" stroke="#333" stroke-width="0.85" />
<line x1="563.06" y1="315.00" x2="563.06" y2="316.50" stroke="#333" stroke-width="0.85" />
<line x1="563.06" y1="180.30" x2="563.06" y2="181.60" stroke="#333" stroke-width="0.85" />
<line x1="564.12" y1="315.00" x2="564.12" y2="317.60" stroke="#222" stroke-width="0.9" />
<line x1="564.12" y1="180.30" x2="564.12" y2="182.50" stroke="#222" stroke-width="0.9" />
<line x1="571.12" y1="315.00" x2="571.12" y2="316.50" stroke="#333" stroke-width="0.85" />
<line x1="571.12" y1="180.30" x2="571.12" y2="181.60" stroke="#333" stroke-width="0.85" />
<line x1="575.22" y1="315.00" x2="575.22" y2="316.50" stroke="#333" stroke-width="0.85" />
<line x1="575.22" y1="180.30" x2="575.22" y2="181.60" stroke="#333" stroke-width="0.85" />
<line x1="578.12" y1="315.00" x2="578.12" y2="316.50" stroke="#333" stroke-width="0.85" />
<line x1="578.12" y1="180.30" x2="578.12" y2="181.60" stroke="#333" stroke-width="0.85" />
<line x1="580.38" y1="315.00" x2="580.38" y2="316.50" stroke="#333" stroke-width="0.85" />
<line x1="580.38" y1="180.30" x2="580.38" y2="181.60" stroke="#333" stroke-width="0.85" />
<line x1="582.22" y1="315.00" x2="582.22" y2="316.50" stroke="#333" stroke-width="0.85" />
<line x1="582.22" y1="180.30" x2="582.22" y2="181.60" stroke="#333" stroke-width="0.85" />
<line x1="583.78" y1="315.00" x2="583.78" y2="316.50" stroke="#333" stroke-width="0.85" />
<line x1="583.78" y1="180.30" x2="583.78" y2="181.60" stroke="#333" stroke-width="0.85" />
<line x1="585.13" y1="315.00" x2="585.13" y2="316.50" stroke="#333" stroke-width="0.85" />
<line x1="585.13" y1="180.30" x2="585.13" y2="181.60" stroke="#333" stroke-width="0.85" />
<line x1="586.32" y1="315.00" x2="586.32" y2="316.50" stroke="#333" stroke-width="0.85" />
<line x1="586.32" y1="180.30" x2="586.32" y2="181.60" stroke="#333" stroke-width="0.85" />
<line x1="587.38" y1="315.00" x2="587.38" y2="317.60" stroke="#222" stroke-width="0.9" />
<line x1="587.38" y1="180.30" x2="587.38" y2="182.50" stroke="#222" stroke-width="0.9" />
<line x1="594.38" y1="315.00" x2="594.38" y2="316.50" stroke="#333" stroke-width="0.85" />
<line x1="594.38" y1="180.30" x2="594.38" y2="181.60" stroke="#333" stroke-width="0.85" />
<line x1="598.48" y1="315.00" x2="598.48" y2="316.50" stroke="#333" stroke-width="0.85" />
<line x1="598.48" y1="180.30" x2="598.48" y2="181.60" stroke="#333" stroke-width="0.85" />
<line x1="601.38" y1="315.00" x2="601.38" y2="316.50" stroke="#333" stroke-width="0.85" />
<line x1="601.38" y1="180.30" x2="601.38" y2="181.60" stroke="#333" stroke-width="0.85" />
<line x1="603.64" y1="315.00" x2="603.64" y2="316.50" stroke="#333" stroke-width="0.85" />
<line x1="603.64" y1="180.30" x2="603.64" y2="181.60" stroke="#333" stroke-width="0.85" />
<line x1="605.48" y1="315.00" x2="605.48" y2="316.50" stroke="#333" stroke-width="0.85" />
<line x1="605.48" y1="180.30" x2="605.48" y2="181.60" stroke="#333" stroke-width="0.85" />
<line x1="607.04" y1="315.00" x2="607.04" y2="316.50" stroke="#333" stroke-width="0.85" />
<line x1="607.04" y1="180.30" x2="607.04" y2="181.60" stroke="#333" stroke-width="0.85" />
<line x1="608.39" y1="315.00" x2="608.39" y2="316.50" stroke="#333" stroke-width="0.85" />
<line x1="608.39" y1="180.30" x2="608.39" y2="181.60" stroke="#333" stroke-width="0.85" />
<line x1="609.58" y1="315.00" x2="609.58" y2="316.50" stroke="#333" stroke-width="0.85" />
<line x1="609.58" y1="180.30" x2="609.58" y2="181.60" stroke="#333" stroke-width="0.85" />
<line x1="610.64" y1="315.00" x2="610.64" y2="317.60" stroke="#222" stroke-width="0.9" />
<line x1="610.64" y1="180.30" x2="610.64" y2="182.50" stroke="#222" stroke-width="0.9" />
<line x1="617.64" y1="315.00" x2="617.64" y2="316.50" stroke="#333" stroke-width="0.85" />
<line x1="617.64" y1="180.30" x2="617.64" y2="181.60" stroke="#333" stroke-width="0.85" />
<line x1="621.74" y1="315.00" x2="621.74" y2="316.50" stroke="#333" stroke-width="0.85" />
<line x1="621.74" y1="180.30" x2="621.74" y2="181.60" stroke="#333" stroke-width="0.85" />
<line x1="624.64" y1="315.00" x2="624.64" y2="316.50" stroke="#333" stroke-width="0.85" />
<line x1="624.64" y1="180.30" x2="624.64" y2="181.60" stroke="#333" stroke-width="0.85" />
<line x1="626.90" y1="315.00" x2="626.90" y2="316.50" stroke="#333" stroke-width="0.85" />
<line x1="626.90" y1="180.30" x2="626.90" y2="181.60" stroke="#333" stroke-width="0.85" />
<line x1="628.74" y1="315.00" x2="628.74" y2="316.50" stroke="#333" stroke-width="0.85" />
<line x1="628.74" y1="180.30" x2="628.74" y2="181.60" stroke="#333" stroke-width="0.85" />
<line x1="630.30" y1="315.00" x2="630.30" y2="316.50" stroke="#333" stroke-width="0.85" />
<line x1="630.30" y1="180.30" x2="630.30" y2="181.60" stroke="#333" stroke-width="0.85" />
<line x1="631.65" y1="315.00" x2="631.65" y2="316.50" stroke="#333" stroke-width="0.85" />
<line x1="631.65" y1="180.30" x2="631.65" y2="181.60" stroke="#333" stroke-width="0.85" />
<line x1="632.84" y1="315.00" x2="632.84" y2="316.50" stroke="#333" stroke-width="0.85" />
<line x1="632.84" y1="180.30" x2="632.84" y2="181.60" stroke="#333" stroke-width="0.85" />
<line x1="633.90" y1="315.00" x2="633.90" y2="317.60" stroke="#222" stroke-width="0.9" />
<line x1="633.90" y1="180.30" x2="633.90" y2="182.50" stroke="#222" stroke-width="0.9" />
<line x1="640.90" y1="315.00" x2="640.90" y2="316.50" stroke="#333" stroke-width="0.85" />
<line x1="640.90" y1="180.30" x2="640.90" y2="181.60" stroke="#333" stroke-width="0.85" />
<line x1="645.00" y1="315.00" x2="645.00" y2="316.50" stroke="#333" stroke-width="0.85" />
<line x1="645.00" y1="180.30" x2="645.00" y2="181.60" stroke="#333" stroke-width="0.85" />
<line x1="647.90" y1="315.00" x2="647.90" y2="316.50" stroke="#333" stroke-width="0.85" />
<line x1="647.90" y1="180.30" x2="647.90" y2="181.60" stroke="#333" stroke-width="0.85" />
<line x1="650.16" y1="315.00" x2="650.16" y2="316.50" stroke="#333" stroke-width="0.85" />
<line x1="650.16" y1="180.30" x2="650.16" y2="181.60" stroke="#333" stroke-width="0.85" />
<line x1="652.00" y1="315.00" x2="652.00" y2="316.50" stroke="#333" stroke-width="0.85" />
<line x1="652.00" y1="180.30" x2="652.00" y2="181.60" stroke="#333" stroke-width="0.85" />
<line x1="653.56" y1="315.00" x2="653.56" y2="316.50" stroke="#333" stroke-width="0.85" />
<line x1="653.56" y1="180.30" x2="653.56" y2="181.60" stroke="#333" stroke-width="0.85" />
<line x1="654.91" y1="315.00" x2="654.91" y2="316.50" stroke="#333" stroke-width="0.85" />
<line x1="654.91" y1="180.30" x2="654.91" y2="181.60" stroke="#333" stroke-width="0.85" />
<line x1="656.10" y1="315.00" x2="656.10" y2="316.50" stroke="#333" stroke-width="0.85" />
<line x1="656.10" y1="180.30" x2="656.10" y2="181.60" stroke="#333" stroke-width="0.85" />
<line x1="657.16" y1="315.00" x2="657.16" y2="317.60" stroke="#222" stroke-width="0.9" />
<line x1="657.16" y1="180.30" x2="657.16" y2="182.50" stroke="#222" stroke-width="0.9" />
<line x1="664.16" y1="315.00" x2="664.16" y2="316.50" stroke="#333" stroke-width="0.85" />
<line x1="664.16" y1="180.30" x2="664.16" y2="181.60" stroke="#333" stroke-width="0.85" />
<line x1="668.26" y1="315.00" x2="668.26" y2="316.50" stroke="#333" stroke-width="0.85" />
<line x1="668.26" y1="180.30" x2="668.26" y2="181.60" stroke="#333" stroke-width="0.85" />
<line x1="671.16" y1="315.00" x2="671.16" y2="316.50" stroke="#333" stroke-width="0.85" />
<line x1="671.16" y1="180.30" x2="671.16" y2="181.60" stroke="#333" stroke-width="0.85" />
<line x1="673.42" y1="315.00" x2="673.42" y2="316.50" stroke="#333" stroke-width="0.85" />
<line x1="673.42" y1="180.30" x2="673.42" y2="181.60" stroke="#333" stroke-width="0.85" />
<line x1="675.26" y1="315.00" x2="675.26" y2="316.50" stroke="#333" stroke-width="0.85" />
<line x1="675.26" y1="180.30" x2="675.26" y2="181.60" stroke="#333" stroke-width="0.85" />
<line x1="676.82" y1="315.00" x2="676.82" y2="316.50" stroke="#333" stroke-width="0.85" />
<line x1="676.82" y1="180.30" x2="676.82" y2="181.60" stroke="#333" stroke-width="0.85" />
<line x1="678.17" y1="315.00" x2="678.17" y2="316.50" stroke="#333" stroke-width="0.85" />
<line x1="678.17" y1="180.30" x2="678.17" y2="181.60" stroke="#333" stroke-width="0.85" />
<line x1="679.36" y1="315.00" x2="679.36" y2="316.50" stroke="#333" stroke-width="0.85" />
<line x1="679.36" y1="180.30" x2="679.36" y2="181.60" stroke="#333" stroke-width="0.85" />
<text x="511.60" y="327.60" font-size="8.3" font-weight="bold" fill="#1a1a1a" textLength="8.4" lengthAdjust="spacingAndGlyphs">10</text>
<text x="520.20" y="324.00" font-size="4.8" font-weight="bold" fill="#1a1a1a">0</text>
<text x="534.86" y="327.60" font-size="8.3" font-weight="bold" fill="#1a1a1a" textLength="8.4" lengthAdjust="spacingAndGlyphs">10</text>
<text x="543.46" y="324.00" font-size="4.8" font-weight="bold" fill="#1a1a1a">1</text>
<text x="558.12" y="327.60" font-size="8.3" font-weight="bold" fill="#1a1a1a" textLength="8.4" lengthAdjust="spacingAndGlyphs">10</text>
<text x="566.72" y="324.00" font-size="4.8" font-weight="bold" fill="#1a1a1a">2</text>
<text x="581.38" y="327.60" font-size="8.3" font-weight="bold" fill="#1a1a1a" textLength="8.4" lengthAdjust="spacingAndGlyphs">10</text>
<text x="589.98" y="324.00" font-size="4.8" font-weight="bold" fill="#1a1a1a">3</text>
<text x="604.64" y="327.60" font-size="8.3" font-weight="bold" fill="#1a1a1a" textLength="8.4" lengthAdjust="spacingAndGlyphs">10</text>
<text x="613.24" y="324.00" font-size="4.8" font-weight="bold" fill="#1a1a1a">4</text>
<text x="627.90" y="327.60" font-size="8.3" font-weight="bold" fill="#1a1a1a" textLength="8.4" lengthAdjust="spacingAndGlyphs">10</text>
<text x="636.50" y="324.00" font-size="4.8" font-weight="bold" fill="#1a1a1a">5</text>
<text x="651.16" y="327.60" font-size="8.3" font-weight="bold" fill="#1a1a1a" textLength="8.4" lengthAdjust="spacingAndGlyphs">10</text>
<text x="659.76" y="324.00" font-size="4.8" font-weight="bold" fill="#1a1a1a">6</text>
<text x="674.42" y="327.60" font-size="8.3" font-weight="bold" fill="#1a1a1a" textLength="8.4" lengthAdjust="spacingAndGlyphs">10</text>
<text x="683.02" y="324.00" font-size="4.8" font-weight="bold" fill="#1a1a1a">7</text>
<rect x="512.20" y="180.30" width="168.20" height="134.70" fill="none" stroke="#111" stroke-width="1.1" />
<text x="578.80" y="338.20" font-size="8.0" fill="#1a1a1a" font-weight="bold" text-anchor="start" textLength="35.20" lengthAdjust="spacingAndGlyphs"  stroke="#1a1a1a" stroke-width="0.32">Time (min)</text>
<text transform="translate(495.60,269.20) rotate(-90)" x="0" y="0" font-size="8.6" fill="#1a1a1a" font-weight="bold" text-anchor="start" textLength="42.20" lengthAdjust="spacingAndGlyphs"  stroke="#1a1a1a" stroke-width="0.32">Current (nA)</text>
<text x="640.30" y="199.90" font-size="10.2" fill="#1a1a1a" font-weight="bold" text-anchor="start" textLength="31.40" lengthAdjust="spacingAndGlyphs"  stroke="#1a1a1a" stroke-width="0.32">10 years</text>
<line x1="673.70" y1="180.30" x2="673.70" y2="315.00" stroke="#222" stroke-width="1.2" stroke-dasharray="3.6,2.3"/>
<line x1="545.00" y1="197.00" x2="673.70" y2="224.70" stroke="#333" stroke-width="1.1" stroke-dasharray="4,3"/>
<line x1="528.80" y1="305.20" x2="673.70" y2="276.50" stroke="#333" stroke-width="1.1" stroke-dasharray="4,3"/>
<polyline points="517.20,306.70 521.10,305.20 539.90,308.10 547.50,308.10 566.30,308.60 600.40,308.30 612.20,307.70" fill="none" stroke="#e8952e" stroke-width="1.0" stroke-linejoin="round" />
<circle cx="517.20" cy="306.70" r="1.70" fill="#e8952e"/>
<circle cx="521.10" cy="305.20" r="1.70" fill="#e8952e"/>
<circle cx="539.90" cy="308.10" r="1.70" fill="#e8952e"/>
<circle cx="547.50" cy="308.10" r="1.70" fill="#e8952e"/>
<circle cx="566.30" cy="308.60" r="1.70" fill="#e8952e"/>
<circle cx="600.40" cy="308.30" r="1.70" fill="#e8952e"/>
<circle cx="612.20" cy="307.70" r="1.70" fill="#e8952e"/>
<polyline points="517.00,308.10 537.00,304.60 544.60,303.50 551.60,305.00 558.70,306.50 563.30,305.50" fill="none" stroke="#3f9a3c" stroke-width="1.0" stroke-linejoin="round" />
<circle cx="517.00" cy="308.10" r="1.70" fill="#3f9a3c"/>
<circle cx="537.00" cy="304.60" r="1.70" fill="#3f9a3c"/>
<circle cx="544.60" cy="303.50" r="1.70" fill="#3f9a3c"/>
<circle cx="551.60" cy="305.00" r="1.70" fill="#3f9a3c"/>
<circle cx="558.70" cy="306.50" r="1.70" fill="#3f9a3c"/>
<circle cx="563.30" cy="305.50" r="1.70" fill="#3f9a3c"/>
<polyline points="517.00,307.50 537.00,305.20 544.60,305.20 551.60,304.60 558.70,304.00 563.30,305.20" fill="none" stroke="#3a48b8" stroke-width="1.0" stroke-linejoin="round" />
<circle cx="517.00" cy="307.50" r="1.70" fill="#3a48b8"/>
<circle cx="537.00" cy="305.20" r="1.70" fill="#3a48b8"/>
<circle cx="544.60" cy="305.20" r="1.70" fill="#3a48b8"/>
<circle cx="551.60" cy="304.60" r="1.70" fill="#3a48b8"/>
<circle cx="558.70" cy="304.00" r="1.70" fill="#3a48b8"/>
<circle cx="563.30" cy="305.20" r="1.70" fill="#3a48b8"/>
<polyline points="517.00,310.50 537.00,308.10 551.60,301.70 558.70,295.80 563.30,294.10" fill="none" stroke="#111" stroke-width="1.0" stroke-linejoin="round" />
<circle cx="517.00" cy="310.50" r="1.70" fill="#111"/>
<circle cx="537.00" cy="308.10" r="1.70" fill="#111"/>
<circle cx="551.60" cy="301.70" r="1.70" fill="#111"/>
<circle cx="558.70" cy="295.80" r="1.70" fill="#111"/>
<circle cx="563.30" cy="294.10" r="1.70" fill="#111"/>
<polyline points="517.00,305.20 537.00,298.80 544.60,295.80 551.60,298.80 558.70,300.50 563.30,296.40" fill="none" stroke="#d8282e" stroke-width="1.0" stroke-linejoin="round" />
<circle cx="517.00" cy="305.20" r="1.70" fill="#d8282e"/>
<circle cx="537.00" cy="298.80" r="1.70" fill="#d8282e"/>
<circle cx="544.60" cy="295.80" r="1.70" fill="#d8282e"/>
<circle cx="551.60" cy="298.80" r="1.70" fill="#d8282e"/>
<circle cx="558.70" cy="300.50" r="1.70" fill="#d8282e"/>
<circle cx="563.30" cy="296.40" r="1.70" fill="#d8282e"/>
<polyline points="520.90,206.00 540.20,202.30 547.90,236.10 566.60,257.00 600.20,266.30 612.20,266.00" fill="none" stroke="#e8952e" stroke-width="1.0" stroke-linejoin="round" />
<circle cx="520.90" cy="206.00" r="1.70" fill="#e8952e"/>
<circle cx="540.20" cy="202.30" r="1.70" fill="#e8952e"/>
<circle cx="547.90" cy="236.10" r="1.70" fill="#e8952e"/>
<circle cx="566.60" cy="257.00" r="1.70" fill="#e8952e"/>
<circle cx="600.20" cy="266.30" r="1.70" fill="#e8952e"/>
<circle cx="612.20" cy="266.00" r="1.70" fill="#e8952e"/>
<polyline points="517.20,210.80 536.60,286.50 544.60,301.10 551.60,303.40 558.70,303.50 563.30,302.50" fill="none" stroke="#3f9a3c" stroke-width="1.0" stroke-linejoin="round" />
<circle cx="517.20" cy="210.80" r="1.70" fill="#3f9a3c"/>
<circle cx="536.60" cy="286.50" r="1.70" fill="#3f9a3c"/>
<circle cx="544.60" cy="301.10" r="1.70" fill="#3f9a3c"/>
<circle cx="551.60" cy="303.40" r="1.70" fill="#3f9a3c"/>
<circle cx="558.70" cy="303.50" r="1.70" fill="#3f9a3c"/>
<circle cx="563.30" cy="302.50" r="1.70" fill="#3f9a3c"/>
<polyline points="517.20,203.40 537.00,239.00 545.10,251.10 551.70,258.00 558.50,272.20 564.30,274.40" fill="none" stroke="#3a48b8" stroke-width="1.0" stroke-linejoin="round" />
<rect x="515.70" y="201.90" width="3.00" height="3.00" fill="#3a48b8"/>
<rect x="535.50" y="237.50" width="3.00" height="3.00" fill="#3a48b8"/>
<rect x="543.60" y="249.60" width="3.00" height="3.00" fill="#3a48b8"/>
<rect x="550.20" y="256.50" width="3.00" height="3.00" fill="#3a48b8"/>
<rect x="557.00" y="270.70" width="3.00" height="3.00" fill="#3a48b8"/>
<rect x="562.80" y="272.90" width="3.00" height="3.00" fill="#3a48b8"/>
<polyline points="517.20,191.40 537.20,196.30 551.50,204.00 558.60,204.60 564.00,207.30" fill="none" stroke="#111" stroke-width="1.0" stroke-linejoin="round" />
<rect x="515.70" y="189.90" width="3.00" height="3.00" fill="#111"/>
<rect x="535.70" y="194.80" width="3.00" height="3.00" fill="#111"/>
<rect x="550.00" y="202.50" width="3.00" height="3.00" fill="#111"/>
<rect x="557.10" y="203.10" width="3.00" height="3.00" fill="#111"/>
<rect x="562.50" y="205.80" width="3.00" height="3.00" fill="#111"/>
<polyline points="517.20,188.60 537.20,192.50 544.90,197.40 551.50,194.10 558.60,199.60 564.00,198.00" fill="none" stroke="#d8282e" stroke-width="1.0" stroke-linejoin="round" />
<rect x="515.70" y="187.10" width="3.00" height="3.00" fill="#d8282e"/>
<rect x="535.70" y="191.00" width="3.00" height="3.00" fill="#d8282e"/>
<rect x="543.40" y="195.90" width="3.00" height="3.00" fill="#d8282e"/>
<rect x="550.00" y="192.60" width="3.00" height="3.00" fill="#d8282e"/>
<rect x="557.10" y="198.10" width="3.00" height="3.00" fill="#d8282e"/>
<rect x="562.50" y="196.50" width="3.00" height="3.00" fill="#d8282e"/>
<rect x="626.20" y="230.80" width="44.20" height="37.40" fill="#fff" stroke="#b0b0b0" stroke-width="0.6" />
<line x1="671.20" y1="232.50" x2="671.20" y2="269.40" stroke="#000" stroke-width="1.6" />
<line x1="628.00" y1="268.90" x2="671.90" y2="268.90" stroke="#000" stroke-width="1.4" />
<line x1="626.80" y1="233.40" x2="636.20" y2="233.40" stroke="#555" stroke-width="0.9" />
<text x="636.90" y="234.90" font-size="4.4" fill="#333" font-weight="bold" text-anchor="start" textLength="5.60" lengthAdjust="spacingAndGlyphs"  stroke="#333" stroke-width="0.05">1V</text>
<line x1="626.80" y1="238.50" x2="636.20" y2="238.50" stroke="#d86060" stroke-width="0.9" />
<text x="636.90" y="240.00" font-size="4.4" fill="#333" font-weight="bold" text-anchor="start" textLength="5.60" lengthAdjust="spacingAndGlyphs"  stroke="#333" stroke-width="0.05">2V</text>
<line x1="626.80" y1="243.60" x2="636.20" y2="243.60" stroke="#6a78d0" stroke-width="0.9" />
<text x="636.90" y="245.10" font-size="4.4" fill="#333" font-weight="bold" text-anchor="start" textLength="6.40" lengthAdjust="spacingAndGlyphs"  stroke="#333" stroke-width="0.05">-1V</text>
<line x1="626.80" y1="248.70" x2="636.20" y2="248.70" stroke="#70a870" stroke-width="0.9" />
<text x="636.90" y="250.20" font-size="4.4" fill="#333" font-weight="bold" text-anchor="start" textLength="6.40" lengthAdjust="spacingAndGlyphs"  stroke="#333" stroke-width="0.05">-2V</text>
<line x1="626.80" y1="253.80" x2="636.20" y2="253.80" stroke="#f2c090" stroke-width="0.9" />
<text x="636.90" y="255.30" font-size="4.4" fill="#333" font-weight="bold" text-anchor="start" textLength="25.80" lengthAdjust="spacingAndGlyphs"  stroke="#333" stroke-width="0.05">6V (from Fig. 2)</text>
<rect x="631.05" y="258.25" width="1.30" height="1.30" fill="#111"/>
<text x="636.90" y="260.40" font-size="4.4" fill="#333" font-weight="bold" text-anchor="start" textLength="26.00" lengthAdjust="spacingAndGlyphs"  stroke="#333" stroke-width="0.05">ON-current (P_.)</text>
<rect x="631.05" y="263.45" width="1.30" height="1.30" fill="#111"/>
<text x="636.90" y="265.60" font-size="4.4" fill="#333" font-weight="bold" text-anchor="start" textLength="31.60" lengthAdjust="spacingAndGlyphs"  stroke="#333" stroke-width="0.05">OFF-current (P__.)</text>
</svg></body></html>
